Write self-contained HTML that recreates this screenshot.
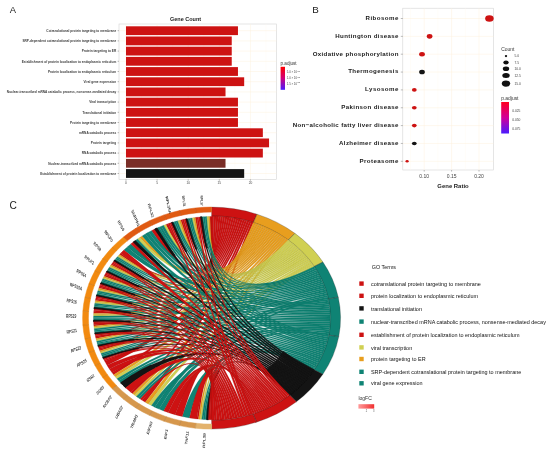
<!DOCTYPE html>
<html><head><meta charset="utf-8"><style>
html,body{margin:0;padding:0;background:#fff;}
svg{display:block;}
</style></head><body>
<svg width="550" height="454" viewBox="0 0 550 454">
<rect width="550" height="454" fill="#fff"/>
<text x="9.8" y="12.5" font-size="9.4" font-family="Liberation Sans, Arial, sans-serif" fill="#222">A</text>
<rect x="119.0" y="24.0" width="157.5" height="155.3" fill="#fff" stroke="#d4d4d4" stroke-width="0.6"/>
<line x1="141.55" y1="24.0" x2="141.55" y2="179.3" stroke="#fef8ee" stroke-width="0.35"/>
<line x1="172.65" y1="24.0" x2="172.65" y2="179.3" stroke="#fef8ee" stroke-width="0.35"/>
<line x1="203.75" y1="24.0" x2="203.75" y2="179.3" stroke="#fef8ee" stroke-width="0.35"/>
<line x1="234.85" y1="24.0" x2="234.85" y2="179.3" stroke="#fef8ee" stroke-width="0.35"/>
<line x1="265.95" y1="24.0" x2="265.95" y2="179.3" stroke="#fef8ee" stroke-width="0.35"/>
<line x1="126.00" y1="24.0" x2="126.00" y2="179.3" stroke="#fcf0dc" stroke-width="0.5"/>
<line x1="157.10" y1="24.0" x2="157.10" y2="179.3" stroke="#fcf0dc" stroke-width="0.5"/>
<line x1="188.20" y1="24.0" x2="188.20" y2="179.3" stroke="#fcf0dc" stroke-width="0.5"/>
<line x1="219.30" y1="24.0" x2="219.30" y2="179.3" stroke="#fcf0dc" stroke-width="0.5"/>
<line x1="250.40" y1="24.0" x2="250.40" y2="179.3" stroke="#fcf0dc" stroke-width="0.5"/>
<line x1="119.0" y1="30.70" x2="276.5" y2="30.70" stroke="#fcf0dc" stroke-width="0.5"/>
<line x1="119.0" y1="40.90" x2="276.5" y2="40.90" stroke="#fcf0dc" stroke-width="0.5"/>
<line x1="119.0" y1="51.10" x2="276.5" y2="51.10" stroke="#fcf0dc" stroke-width="0.5"/>
<line x1="119.0" y1="61.30" x2="276.5" y2="61.30" stroke="#fcf0dc" stroke-width="0.5"/>
<line x1="119.0" y1="71.50" x2="276.5" y2="71.50" stroke="#fcf0dc" stroke-width="0.5"/>
<line x1="119.0" y1="81.70" x2="276.5" y2="81.70" stroke="#fcf0dc" stroke-width="0.5"/>
<line x1="119.0" y1="91.90" x2="276.5" y2="91.90" stroke="#fcf0dc" stroke-width="0.5"/>
<line x1="119.0" y1="102.10" x2="276.5" y2="102.10" stroke="#fcf0dc" stroke-width="0.5"/>
<line x1="119.0" y1="112.30" x2="276.5" y2="112.30" stroke="#fcf0dc" stroke-width="0.5"/>
<line x1="119.0" y1="122.50" x2="276.5" y2="122.50" stroke="#fcf0dc" stroke-width="0.5"/>
<line x1="119.0" y1="132.70" x2="276.5" y2="132.70" stroke="#fcf0dc" stroke-width="0.5"/>
<line x1="119.0" y1="142.90" x2="276.5" y2="142.90" stroke="#fcf0dc" stroke-width="0.5"/>
<line x1="119.0" y1="153.10" x2="276.5" y2="153.10" stroke="#fcf0dc" stroke-width="0.5"/>
<line x1="119.0" y1="163.30" x2="276.5" y2="163.30" stroke="#fcf0dc" stroke-width="0.5"/>
<line x1="119.0" y1="173.50" x2="276.5" y2="173.50" stroke="#fcf0dc" stroke-width="0.5"/>
<rect x="126.0" y="26.30" width="111.96" height="8.8" fill="#cd1212"/>
<line x1="117.6" y1="30.70" x2="119.0" y2="30.70" stroke="#555" stroke-width="0.4"/>
<text transform="translate(116.20,32.05) scale(0.845,1)" font-size="3.75" font-weight="bold" text-anchor="end" font-family="Liberation Sans, Arial, sans-serif" fill="#3a3a3a">Cotranslational protein targeting to membrane</text>
<rect x="126.0" y="36.50" width="105.74" height="8.8" fill="#cd1212"/>
<line x1="117.6" y1="40.90" x2="119.0" y2="40.90" stroke="#555" stroke-width="0.4"/>
<text transform="translate(116.20,42.25) scale(0.845,1)" font-size="3.75" font-weight="bold" text-anchor="end" font-family="Liberation Sans, Arial, sans-serif" fill="#3a3a3a">SRP-dependent cotranslational protein targeting to membrane</text>
<rect x="126.0" y="46.70" width="105.74" height="8.8" fill="#cd1212"/>
<line x1="117.6" y1="51.10" x2="119.0" y2="51.10" stroke="#555" stroke-width="0.4"/>
<text transform="translate(116.20,52.45) scale(0.845,1)" font-size="3.75" font-weight="bold" text-anchor="end" font-family="Liberation Sans, Arial, sans-serif" fill="#3a3a3a">Protein targeting to ER</text>
<rect x="126.0" y="56.90" width="105.74" height="8.8" fill="#cd1212"/>
<line x1="117.6" y1="61.30" x2="119.0" y2="61.30" stroke="#555" stroke-width="0.4"/>
<text transform="translate(116.20,62.65) scale(0.845,1)" font-size="3.75" font-weight="bold" text-anchor="end" font-family="Liberation Sans, Arial, sans-serif" fill="#3a3a3a">Establishment of protein localization to endoplasmic reticulum</text>
<rect x="126.0" y="67.10" width="111.96" height="8.8" fill="#cd1212"/>
<line x1="117.6" y1="71.50" x2="119.0" y2="71.50" stroke="#555" stroke-width="0.4"/>
<text transform="translate(116.20,72.85) scale(0.845,1)" font-size="3.75" font-weight="bold" text-anchor="end" font-family="Liberation Sans, Arial, sans-serif" fill="#3a3a3a">Protein localization to endoplasmic reticulum</text>
<rect x="126.0" y="77.30" width="118.18" height="8.8" fill="#cd1212"/>
<line x1="117.6" y1="81.70" x2="119.0" y2="81.70" stroke="#555" stroke-width="0.4"/>
<text transform="translate(116.20,83.05) scale(0.845,1)" font-size="3.75" font-weight="bold" text-anchor="end" font-family="Liberation Sans, Arial, sans-serif" fill="#3a3a3a">Viral gene expression</text>
<rect x="126.0" y="87.50" width="99.52" height="8.8" fill="#cd1212"/>
<line x1="117.6" y1="91.90" x2="119.0" y2="91.90" stroke="#555" stroke-width="0.4"/>
<text transform="translate(116.20,93.25) scale(0.845,1)" font-size="3.75" font-weight="bold" text-anchor="end" font-family="Liberation Sans, Arial, sans-serif" fill="#3a3a3a">Nuclear-transcribed mRNA catabolic process, nonsense-mediated decay</text>
<rect x="126.0" y="97.70" width="111.96" height="8.8" fill="#cd1212"/>
<line x1="117.6" y1="102.10" x2="119.0" y2="102.10" stroke="#555" stroke-width="0.4"/>
<text transform="translate(116.20,103.45) scale(0.845,1)" font-size="3.75" font-weight="bold" text-anchor="end" font-family="Liberation Sans, Arial, sans-serif" fill="#3a3a3a">Viral transcription</text>
<rect x="126.0" y="107.90" width="111.96" height="8.8" fill="#cd1212"/>
<line x1="117.6" y1="112.30" x2="119.0" y2="112.30" stroke="#555" stroke-width="0.4"/>
<text transform="translate(116.20,113.65) scale(0.845,1)" font-size="3.75" font-weight="bold" text-anchor="end" font-family="Liberation Sans, Arial, sans-serif" fill="#3a3a3a">Translational initiation</text>
<rect x="126.0" y="118.10" width="111.96" height="8.8" fill="#cd1212"/>
<line x1="117.6" y1="122.50" x2="119.0" y2="122.50" stroke="#555" stroke-width="0.4"/>
<text transform="translate(116.20,123.85) scale(0.845,1)" font-size="3.75" font-weight="bold" text-anchor="end" font-family="Liberation Sans, Arial, sans-serif" fill="#3a3a3a">Protein targeting to membrane</text>
<rect x="126.0" y="128.30" width="136.84" height="8.8" fill="#cd1212"/>
<line x1="117.6" y1="132.70" x2="119.0" y2="132.70" stroke="#555" stroke-width="0.4"/>
<text transform="translate(116.20,134.05) scale(0.845,1)" font-size="3.75" font-weight="bold" text-anchor="end" font-family="Liberation Sans, Arial, sans-serif" fill="#3a3a3a">mRNA catabolic process</text>
<rect x="126.0" y="138.50" width="143.06" height="8.8" fill="#cd1212"/>
<line x1="117.6" y1="142.90" x2="119.0" y2="142.90" stroke="#555" stroke-width="0.4"/>
<text transform="translate(116.20,144.25) scale(0.845,1)" font-size="3.75" font-weight="bold" text-anchor="end" font-family="Liberation Sans, Arial, sans-serif" fill="#3a3a3a">Protein targeting</text>
<rect x="126.0" y="148.70" width="136.84" height="8.8" fill="#cd1212"/>
<line x1="117.6" y1="153.10" x2="119.0" y2="153.10" stroke="#555" stroke-width="0.4"/>
<text transform="translate(116.20,154.45) scale(0.845,1)" font-size="3.75" font-weight="bold" text-anchor="end" font-family="Liberation Sans, Arial, sans-serif" fill="#3a3a3a">RNA catabolic process</text>
<rect x="126.0" y="158.90" width="99.52" height="8.8" fill="#7a2e27"/>
<line x1="117.6" y1="163.30" x2="119.0" y2="163.30" stroke="#555" stroke-width="0.4"/>
<text transform="translate(116.20,164.65) scale(0.845,1)" font-size="3.75" font-weight="bold" text-anchor="end" font-family="Liberation Sans, Arial, sans-serif" fill="#3a3a3a">Nuclear-transcribed mRNA catabolic process</text>
<rect x="126.0" y="169.10" width="118.18" height="8.8" fill="#141414"/>
<line x1="117.6" y1="173.50" x2="119.0" y2="173.50" stroke="#555" stroke-width="0.4"/>
<text transform="translate(116.20,174.85) scale(0.845,1)" font-size="3.75" font-weight="bold" text-anchor="end" font-family="Liberation Sans, Arial, sans-serif" fill="#3a3a3a">Establishment of protein localization to membrane</text>
<line x1="126.00" y1="179.3" x2="126.00" y2="180.8" stroke="#555" stroke-width="0.4"/>
<text x="126.00" y="183.90" font-size="3.2" text-anchor="middle" font-family="Liberation Sans, Arial, sans-serif" fill="#444">0</text>
<line x1="157.10" y1="179.3" x2="157.10" y2="180.8" stroke="#555" stroke-width="0.4"/>
<text x="157.10" y="183.90" font-size="3.2" text-anchor="middle" font-family="Liberation Sans, Arial, sans-serif" fill="#444">5</text>
<line x1="188.20" y1="179.3" x2="188.20" y2="180.8" stroke="#555" stroke-width="0.4"/>
<text x="188.20" y="183.90" font-size="3.2" text-anchor="middle" font-family="Liberation Sans, Arial, sans-serif" fill="#444">10</text>
<line x1="219.30" y1="179.3" x2="219.30" y2="180.8" stroke="#555" stroke-width="0.4"/>
<text x="219.30" y="183.90" font-size="3.2" text-anchor="middle" font-family="Liberation Sans, Arial, sans-serif" fill="#444">15</text>
<line x1="250.40" y1="179.3" x2="250.40" y2="180.8" stroke="#555" stroke-width="0.4"/>
<text x="250.40" y="183.90" font-size="3.2" text-anchor="middle" font-family="Liberation Sans, Arial, sans-serif" fill="#444">20</text>
<text x="185.6" y="21.2" font-size="5.5" font-weight="bold" text-anchor="middle" font-family="Liberation Sans, Arial, sans-serif" fill="#222">Gene Count</text>
<defs><linearGradient id="gA" x1="0" y1="0" x2="0" y2="1"><stop offset="0" stop-color="#ff0000"/><stop offset="0.5" stop-color="#d0007a"/><stop offset="1" stop-color="#4a1aff"/></linearGradient><linearGradient id="gB" x1="0" y1="0" x2="0" y2="1"><stop offset="0" stop-color="#ff0020"/><stop offset="0.5" stop-color="#d0009a"/><stop offset="1" stop-color="#4a1aff"/></linearGradient><linearGradient id="gC" x1="0" y1="0" x2="1" y2="0"><stop offset="0" stop-color="#ff9a9a"/><stop offset="1" stop-color="#f03030"/></linearGradient></defs>
<text x="280.5" y="65.2" font-size="4.6" font-family="Liberation Sans, Arial, sans-serif" fill="#333">p.adjust</text>
<rect x="280.6" y="66.8" width="4.4" height="23" fill="url(#gA)"/>
<text x="286.8" y="73.30" font-size="2.8" font-family="Liberation Sans, Arial, sans-serif" fill="#444">5.0 × 10<tspan font-size="1.8" dy="-1.2">−13</tspan></text>
<text x="286.8" y="78.80" font-size="2.8" font-family="Liberation Sans, Arial, sans-serif" fill="#444">1.0 × 10<tspan font-size="1.8" dy="-1.2">−12</tspan></text>
<text x="286.8" y="84.60" font-size="2.8" font-family="Liberation Sans, Arial, sans-serif" fill="#444">1.5 × 10<tspan font-size="1.8" dy="-1.2">−12</tspan></text>
<text x="312.3" y="13.2" font-size="9.8" font-family="Liberation Sans, Arial, sans-serif" fill="#222">B</text>
<rect x="402.8" y="8.2" width="90.69999999999999" height="161.8" fill="#fff" stroke="#d4d4d4" stroke-width="0.6"/>
<line x1="410.50" y1="8.2" x2="410.50" y2="170.0" stroke="#fef8ee" stroke-width="0.35"/>
<line x1="437.90" y1="8.2" x2="437.90" y2="170.0" stroke="#fef8ee" stroke-width="0.35"/>
<line x1="465.30" y1="8.2" x2="465.30" y2="170.0" stroke="#fef8ee" stroke-width="0.35"/>
<line x1="424.20" y1="8.2" x2="424.20" y2="170.0" stroke="#fcf0dc" stroke-width="0.5"/>
<line x1="451.60" y1="8.2" x2="451.60" y2="170.0" stroke="#fcf0dc" stroke-width="0.5"/>
<line x1="479.00" y1="8.2" x2="479.00" y2="170.0" stroke="#fcf0dc" stroke-width="0.5"/>
<line x1="402.8" y1="18.50" x2="493.5" y2="18.50" stroke="#fcf0dc" stroke-width="0.5"/>
<line x1="402.8" y1="36.35" x2="493.5" y2="36.35" stroke="#fcf0dc" stroke-width="0.5"/>
<line x1="402.8" y1="54.20" x2="493.5" y2="54.20" stroke="#fcf0dc" stroke-width="0.5"/>
<line x1="402.8" y1="72.05" x2="493.5" y2="72.05" stroke="#fcf0dc" stroke-width="0.5"/>
<line x1="402.8" y1="89.90" x2="493.5" y2="89.90" stroke="#fcf0dc" stroke-width="0.5"/>
<line x1="402.8" y1="107.75" x2="493.5" y2="107.75" stroke="#fcf0dc" stroke-width="0.5"/>
<line x1="402.8" y1="125.60" x2="493.5" y2="125.60" stroke="#fcf0dc" stroke-width="0.5"/>
<line x1="402.8" y1="143.45" x2="493.5" y2="143.45" stroke="#fcf0dc" stroke-width="0.5"/>
<line x1="402.8" y1="161.30" x2="493.5" y2="161.30" stroke="#fcf0dc" stroke-width="0.5"/>
<ellipse cx="489.4" cy="18.50" rx="4.25" ry="3.25" fill="#cd1212"/>
<line x1="400.8" y1="18.50" x2="402.8" y2="18.50" stroke="#555" stroke-width="0.4"/>
<text x="398.4" y="19.90" font-size="6.15" font-weight="bold" text-anchor="end" textLength="32.87" lengthAdjust="spacing" font-family="Liberation Sans, Arial, sans-serif" fill="#1a1a1a">Ribosome</text>
<ellipse cx="429.6" cy="36.35" rx="2.85" ry="2.3" fill="#cd1212"/>
<line x1="400.8" y1="36.35" x2="402.8" y2="36.35" stroke="#555" stroke-width="0.4"/>
<text x="398.4" y="37.75" font-size="6.15" font-weight="bold" text-anchor="end" textLength="63.09" lengthAdjust="spacing" font-family="Liberation Sans, Arial, sans-serif" fill="#1a1a1a">Huntington disease</text>
<ellipse cx="422.0" cy="54.20" rx="2.85" ry="2.25" fill="#cd1212"/>
<line x1="400.8" y1="54.20" x2="402.8" y2="54.20" stroke="#555" stroke-width="0.4"/>
<text x="398.4" y="55.60" font-size="6.15" font-weight="bold" text-anchor="end" textLength="85.76" lengthAdjust="spacing" font-family="Liberation Sans, Arial, sans-serif" fill="#1a1a1a">Oxidative phosphorylation</text>
<ellipse cx="422.0" cy="72.05" rx="2.85" ry="2.3" fill="#141414"/>
<line x1="400.8" y1="72.05" x2="402.8" y2="72.05" stroke="#555" stroke-width="0.4"/>
<text x="398.4" y="73.45" font-size="6.15" font-weight="bold" text-anchor="end" textLength="50.26" lengthAdjust="spacing" font-family="Liberation Sans, Arial, sans-serif" fill="#1a1a1a">Thermogenesis</text>
<ellipse cx="414.3" cy="89.90" rx="2.4" ry="1.8" fill="#cd1212"/>
<line x1="400.8" y1="89.90" x2="402.8" y2="89.90" stroke="#555" stroke-width="0.4"/>
<text x="398.4" y="91.30" font-size="6.15" font-weight="bold" text-anchor="end" textLength="33.38" lengthAdjust="spacing" font-family="Liberation Sans, Arial, sans-serif" fill="#1a1a1a">Lysosome</text>
<ellipse cx="414.3" cy="107.75" rx="2.4" ry="1.8" fill="#cd1212"/>
<line x1="400.8" y1="107.75" x2="402.8" y2="107.75" stroke="#555" stroke-width="0.4"/>
<text x="398.4" y="109.15" font-size="6.15" font-weight="bold" text-anchor="end" textLength="57.07" lengthAdjust="spacing" font-family="Liberation Sans, Arial, sans-serif" fill="#1a1a1a">Pakinson disease</text>
<ellipse cx="414.3" cy="125.60" rx="2.4" ry="1.8" fill="#cd1212"/>
<line x1="400.8" y1="125.60" x2="402.8" y2="125.60" stroke="#555" stroke-width="0.4"/>
<text x="398.4" y="127.00" font-size="6.15" font-weight="bold" text-anchor="end" textLength="105.62" lengthAdjust="spacing" font-family="Liberation Sans, Arial, sans-serif" fill="#1a1a1a">Non−alcoholic fatty liver disease</text>
<ellipse cx="414.3" cy="143.45" rx="2.4" ry="1.8" fill="#141414"/>
<line x1="400.8" y1="143.45" x2="402.8" y2="143.45" stroke="#555" stroke-width="0.4"/>
<text x="398.4" y="144.85" font-size="6.15" font-weight="bold" text-anchor="end" textLength="59.34" lengthAdjust="spacing" font-family="Liberation Sans, Arial, sans-serif" fill="#1a1a1a">Alzheimer disease</text>
<ellipse cx="407.1" cy="161.30" rx="1.6" ry="1.2" fill="#cd1212"/>
<line x1="400.8" y1="161.30" x2="402.8" y2="161.30" stroke="#555" stroke-width="0.4"/>
<text x="398.4" y="162.70" font-size="6.15" font-weight="bold" text-anchor="end" textLength="38.93" lengthAdjust="spacing" font-family="Liberation Sans, Arial, sans-serif" fill="#1a1a1a">Proteasome</text>
<line x1="424.20" y1="170.0" x2="424.20" y2="171.6" stroke="#555" stroke-width="0.4"/>
<text x="424.20" y="178.20" font-size="5" text-anchor="middle" font-family="Liberation Sans, Arial, sans-serif" fill="#444">0.10</text>
<line x1="451.60" y1="170.0" x2="451.60" y2="171.6" stroke="#555" stroke-width="0.4"/>
<text x="451.60" y="178.20" font-size="5" text-anchor="middle" font-family="Liberation Sans, Arial, sans-serif" fill="#444">0.15</text>
<line x1="479.00" y1="170.0" x2="479.00" y2="171.6" stroke="#555" stroke-width="0.4"/>
<text x="479.00" y="178.20" font-size="5" text-anchor="middle" font-family="Liberation Sans, Arial, sans-serif" fill="#444">0.20</text>
<text x="453" y="188.2" font-size="5.95" font-weight="bold" text-anchor="middle" font-family="Liberation Sans, Arial, sans-serif" fill="#222">Gene Ratio</text>
<text x="501.2" y="50.5" font-size="4.95" font-family="Liberation Sans, Arial, sans-serif" fill="#333">Count</text>
<ellipse cx="506" cy="56.1" rx="1.2" ry="1.1" fill="#111"/>
<text x="514.4" y="57.30" font-size="3.3" font-family="Liberation Sans, Arial, sans-serif" fill="#444">5.0</text>
<ellipse cx="506" cy="62.4" rx="2.7" ry="2.0" fill="#111"/>
<text x="514.4" y="63.60" font-size="3.3" font-family="Liberation Sans, Arial, sans-serif" fill="#444">7.5</text>
<ellipse cx="506" cy="68.7" rx="3.2" ry="2.3" fill="#111"/>
<text x="514.4" y="69.90" font-size="3.3" font-family="Liberation Sans, Arial, sans-serif" fill="#444">10.0</text>
<ellipse cx="506" cy="75.5" rx="3.7" ry="2.5" fill="#111"/>
<text x="514.4" y="76.70" font-size="3.3" font-family="Liberation Sans, Arial, sans-serif" fill="#444">12.5</text>
<ellipse cx="506" cy="83.6" rx="4.2" ry="3.1" fill="#111"/>
<text x="514.4" y="84.80" font-size="3.3" font-family="Liberation Sans, Arial, sans-serif" fill="#444">15.0</text>
<text x="501.2" y="99.9" font-size="4.95" font-family="Liberation Sans, Arial, sans-serif" fill="#333">p.adjust</text>
<rect x="501.2" y="102" width="7.8" height="31.5" fill="url(#gB)"/>
<text x="512.2" y="112.00" font-size="3.3" font-family="Liberation Sans, Arial, sans-serif" fill="#444">0.025</text>
<text x="512.2" y="120.80" font-size="3.3" font-family="Liberation Sans, Arial, sans-serif" fill="#444">0.050</text>
<text x="512.2" y="129.90" font-size="3.3" font-family="Liberation Sans, Arial, sans-serif" fill="#444">0.075</text>
<text x="9.6" y="209.2" font-size="10.2" font-family="Liberation Sans, Arial, sans-serif" fill="#222">C</text>
<g transform="translate(211.6,318.1) scale(1.162,1)">
<path d="M0.00,-111.00 A111.0,111.0 0 0 1 39.05,-103.90 L35.96,-95.67 A102.2,102.2 0 0 0 0.00,-102.20 Z" fill="#cd1212" stroke="#333" stroke-width="0.25"/>
<path d="M39.05,-103.90 A111.0,111.0 0 0 1 71.65,-84.78 L65.97,-78.06 A102.2,102.2 0 0 0 35.96,-95.67 Z" fill="#e89e1e" stroke="#333" stroke-width="0.25"/>
<path d="M71.65,-84.78 A111.0,111.0 0 0 1 95.84,-56.00 L88.24,-51.56 A102.2,102.2 0 0 0 65.97,-78.06 Z" fill="#d0d052" stroke="#333" stroke-width="0.25"/>
<path d="M95.84,-56.00 A111.0,111.0 0 0 1 109.03,-20.80 L100.39,-19.15 A102.2,102.2 0 0 0 88.24,-51.56 Z" fill="#0f8374" stroke="#333" stroke-width="0.25"/>
<path d="M109.03,-20.80 A111.0,111.0 0 0 1 109.45,18.51 L100.77,17.04 A102.2,102.2 0 0 0 100.39,-19.15 Z" fill="#0f8374" stroke="#333" stroke-width="0.25"/>
<path d="M109.45,18.51 A111.0,111.0 0 0 1 95.74,56.17 L88.15,51.72 A102.2,102.2 0 0 0 100.77,17.04 Z" fill="#0f8374" stroke="#333" stroke-width="0.25"/>
<path d="M95.74,56.17 A111.0,111.0 0 0 1 72.97,83.65 L67.18,77.01 A102.2,102.2 0 0 0 88.15,51.72 Z" fill="#141414" stroke="#333" stroke-width="0.25"/>
<path d="M72.97,83.65 A111.0,111.0 0 0 1 38.69,104.04 L35.62,95.79 A102.2,102.2 0 0 0 67.18,77.01 Z" fill="#cd1212" stroke="#333" stroke-width="0.25"/>
<path d="M38.69,104.04 A111.0,111.0 0 0 1 0.00,111.00 L0.00,102.20 A102.2,102.2 0 0 0 35.62,95.79 Z" fill="#cd1212" stroke="#333" stroke-width="0.25"/>
<path d="M-0.00,-101.60 A101.6,101.6 0 0 0 -1.42,-101.59 Q0,0 1.93,-102.18 A102.2,102.2 0 0 0 0.00,-102.20 Q0,0 -0.00,-101.60 Z" fill="#cd1212" stroke="#990d0d" stroke-width="0.2"/>
<path d="M-12.73,-100.80 A101.6,101.6 0 0 0 -14.14,-100.61 Q0,0 3.87,-102.13 A102.2,102.2 0 0 0 1.93,-102.18 Q0,0 -12.73,-100.80 Z" fill="#cd1212" stroke="#990d0d" stroke-width="0.2"/>
<path d="M-25.27,-98.41 A101.6,101.6 0 0 0 -26.64,-98.05 Q0,0 5.80,-102.04 A102.2,102.2 0 0 0 3.87,-102.13 Q0,0 -25.27,-98.41 Z" fill="#cd1212" stroke="#990d0d" stroke-width="0.2"/>
<path d="M-37.40,-94.47 A101.6,101.6 0 0 0 -39.37,-93.66 Q0,0 7.73,-101.91 A102.2,102.2 0 0 0 5.80,-102.04 Q0,0 -37.40,-94.47 Z" fill="#cd1212" stroke="#990d0d" stroke-width="0.2"/>
<path d="M-48.95,-89.03 A101.6,101.6 0 0 0 -51.72,-87.45 Q0,0 9.66,-101.74 A102.2,102.2 0 0 0 7.73,-101.91 Q0,0 -48.95,-89.03 Z" fill="#cd1212" stroke="#990d0d" stroke-width="0.2"/>
<path d="M-78.28,-64.76 A101.6,101.6 0 0 0 -79.18,-63.66 Q0,0 11.58,-101.54 A102.2,102.2 0 0 0 9.66,-101.74 Q0,0 -78.28,-64.76 Z" fill="#cd1212" stroke="#990d0d" stroke-width="0.2"/>
<path d="M-85.78,-54.44 A101.6,101.6 0 0 0 -86.54,-53.24 Q0,0 13.50,-101.30 A102.2,102.2 0 0 0 11.58,-101.54 Q0,0 -85.78,-54.44 Z" fill="#cd1212" stroke="#990d0d" stroke-width="0.2"/>
<path d="M-91.93,-43.26 A101.6,101.6 0 0 0 -92.53,-41.97 Q0,0 15.41,-101.03 A102.2,102.2 0 0 0 13.50,-101.30 Q0,0 -91.93,-43.26 Z" fill="#cd1212" stroke="#990d0d" stroke-width="0.2"/>
<path d="M-96.63,-31.40 A101.6,101.6 0 0 0 -97.06,-30.04 Q0,0 17.32,-100.72 A102.2,102.2 0 0 0 15.41,-101.03 Q0,0 -96.63,-31.40 Z" fill="#cd1212" stroke="#990d0d" stroke-width="0.2"/>
<path d="M-99.80,-19.04 A101.6,101.6 0 0 0 -100.06,-17.64 Q0,0 19.22,-100.38 A102.2,102.2 0 0 0 17.32,-100.72 Q0,0 -99.80,-19.04 Z" fill="#cd1212" stroke="#990d0d" stroke-width="0.2"/>
<path d="M-101.40,-6.38 A101.6,101.6 0 0 0 -101.48,-4.96 Q0,0 21.12,-99.99 A102.2,102.2 0 0 0 19.22,-100.38 Q0,0 -101.40,-6.38 Z" fill="#cd1212" stroke="#990d0d" stroke-width="0.2"/>
<path d="M-101.40,6.38 A101.6,101.6 0 0 0 -101.30,7.79 Q0,0 23.01,-99.58 A102.2,102.2 0 0 0 21.12,-99.99 Q0,0 -101.40,6.38 Z" fill="#cd1212" stroke="#990d0d" stroke-width="0.2"/>
<path d="M-99.80,19.04 A101.6,101.6 0 0 0 -99.52,20.43 Q0,0 24.89,-99.12 A102.2,102.2 0 0 0 23.01,-99.58 Q0,0 -99.80,19.04 Z" fill="#cd1212" stroke="#990d0d" stroke-width="0.2"/>
<path d="M-96.63,31.40 A101.6,101.6 0 0 0 -96.18,32.74 Q0,0 26.76,-98.63 A102.2,102.2 0 0 0 24.89,-99.12 Q0,0 -96.63,31.40 Z" fill="#cd1212" stroke="#990d0d" stroke-width="0.2"/>
<path d="M-91.93,43.26 A101.6,101.6 0 0 0 -90.04,47.07 Q0,0 28.62,-98.11 A102.2,102.2 0 0 0 26.76,-98.63 Q0,0 -91.93,43.26 Z" fill="#cd1212" stroke="#990d0d" stroke-width="0.2"/>
<path d="M-85.78,54.44 A101.6,101.6 0 0 0 -84.39,56.58 Q0,0 30.47,-97.55 A102.2,102.2 0 0 0 28.62,-98.11 Q0,0 -85.78,54.44 Z" fill="#cd1212" stroke="#990d0d" stroke-width="0.2"/>
<path d="M-69.55,74.06 A101.6,101.6 0 0 0 -67.98,75.50 Q0,0 32.31,-96.96 A102.2,102.2 0 0 0 30.47,-97.55 Q0,0 -69.55,74.06 Z" fill="#cd1212" stroke="#990d0d" stroke-width="0.2"/>
<path d="M-59.72,82.20 A101.6,101.6 0 0 0 -57.11,84.03 Q0,0 34.14,-96.33 A102.2,102.2 0 0 0 32.31,-96.96 Q0,0 -59.72,82.20 Z" fill="#cd1212" stroke="#990d0d" stroke-width="0.2"/>
<path d="M-12.73,100.80 A101.6,101.6 0 0 0 -11.33,100.97 Q0,0 35.96,-95.67 A102.2,102.2 0 0 0 34.14,-96.33 Q0,0 -12.73,100.80 Z" fill="#cd1212" stroke="#990d0d" stroke-width="0.2"/>
<path d="M-1.42,-101.59 A101.6,101.6 0 0 0 -2.84,-101.56 Q0,0 37.88,-94.92 A102.2,102.2 0 0 0 35.96,-95.67 Q0,0 -1.42,-101.59 Z" fill="#e89e1e" stroke="#ae7616" stroke-width="0.2"/>
<path d="M-14.14,-100.61 A101.6,101.6 0 0 0 -15.54,-100.40 Q0,0 39.78,-94.14 A102.2,102.2 0 0 0 37.88,-94.92 Q0,0 -14.14,-100.61 Z" fill="#e89e1e" stroke="#ae7616" stroke-width="0.2"/>
<path d="M-26.64,-98.05 A101.6,101.6 0 0 0 -28.00,-97.66 Q0,0 41.66,-93.32 A102.2,102.2 0 0 0 39.78,-94.14 Q0,0 -26.64,-98.05 Z" fill="#e89e1e" stroke="#ae7616" stroke-width="0.2"/>
<path d="M-59.72,-82.20 A101.6,101.6 0 0 0 -61.77,-80.67 Q0,0 43.53,-92.46 A102.2,102.2 0 0 0 41.66,-93.32 Q0,0 -59.72,-82.20 Z" fill="#e89e1e" stroke="#ae7616" stroke-width="0.2"/>
<path d="M-79.18,-63.66 A101.6,101.6 0 0 0 -80.06,-62.55 Q0,0 45.39,-91.57 A102.2,102.2 0 0 0 43.53,-92.46 Q0,0 -79.18,-63.66 Z" fill="#e89e1e" stroke="#ae7616" stroke-width="0.2"/>
<path d="M-86.54,-53.24 A101.6,101.6 0 0 0 -87.27,-52.02 Q0,0 47.22,-90.64 A102.2,102.2 0 0 0 45.39,-91.57 Q0,0 -86.54,-53.24 Z" fill="#e89e1e" stroke="#ae7616" stroke-width="0.2"/>
<path d="M-92.53,-41.97 A101.6,101.6 0 0 0 -93.10,-40.68 Q0,0 49.03,-89.67 A102.2,102.2 0 0 0 47.22,-90.64 Q0,0 -92.53,-41.97 Z" fill="#e89e1e" stroke="#ae7616" stroke-width="0.2"/>
<path d="M-97.06,-30.04 A101.6,101.6 0 0 0 -97.47,-28.69 Q0,0 50.83,-88.66 A102.2,102.2 0 0 0 49.03,-89.67 Q0,0 -97.06,-30.04 Z" fill="#e89e1e" stroke="#ae7616" stroke-width="0.2"/>
<path d="M-100.06,-17.64 A101.6,101.6 0 0 0 -100.29,-16.24 Q0,0 52.60,-87.62 A102.2,102.2 0 0 0 50.83,-88.66 Q0,0 -100.06,-17.64 Z" fill="#e89e1e" stroke="#ae7616" stroke-width="0.2"/>
<path d="M-101.48,-4.96 A101.6,101.6 0 0 0 -101.54,-3.55 Q0,0 54.35,-86.55 A102.2,102.2 0 0 0 52.60,-87.62 Q0,0 -101.48,-4.96 Z" fill="#e89e1e" stroke="#ae7616" stroke-width="0.2"/>
<path d="M-101.30,7.79 A101.6,101.6 0 0 0 -101.18,9.21 Q0,0 56.08,-85.44 A102.2,102.2 0 0 0 54.35,-86.55 Q0,0 -101.30,7.79 Z" fill="#e89e1e" stroke="#ae7616" stroke-width="0.2"/>
<path d="M-99.52,20.43 A101.6,101.6 0 0 0 -99.23,21.82 Q0,0 57.79,-84.29 A102.2,102.2 0 0 0 56.08,-85.44 Q0,0 -99.52,20.43 Z" fill="#e89e1e" stroke="#ae7616" stroke-width="0.2"/>
<path d="M-96.18,32.74 A101.6,101.6 0 0 0 -95.71,34.08 Q0,0 59.48,-83.11 A102.2,102.2 0 0 0 57.79,-84.29 Q0,0 -96.18,32.74 Z" fill="#e89e1e" stroke="#ae7616" stroke-width="0.2"/>
<path d="M-84.39,56.58 A101.6,101.6 0 0 0 -82.94,58.68 Q0,0 61.14,-81.90 A102.2,102.2 0 0 0 59.48,-83.11 Q0,0 -84.39,56.58 Z" fill="#e89e1e" stroke="#ae7616" stroke-width="0.2"/>
<path d="M-67.98,75.50 A101.6,101.6 0 0 0 -66.39,76.91 Q0,0 62.77,-80.65 A102.2,102.2 0 0 0 61.14,-81.90 Q0,0 -67.98,75.50 Z" fill="#e89e1e" stroke="#ae7616" stroke-width="0.2"/>
<path d="M-57.11,84.03 A101.6,101.6 0 0 0 -54.44,85.78 Q0,0 64.38,-79.37 A102.2,102.2 0 0 0 62.77,-80.65 Q0,0 -57.11,84.03 Z" fill="#e89e1e" stroke="#ae7616" stroke-width="0.2"/>
<path d="M-11.33,100.97 A101.6,101.6 0 0 0 -9.91,101.12 Q0,0 65.97,-78.06 A102.2,102.2 0 0 0 64.38,-79.37 Q0,0 -11.33,100.97 Z" fill="#e89e1e" stroke="#ae7616" stroke-width="0.2"/>
<path d="M-2.84,-101.56 A101.6,101.6 0 0 0 -4.25,-101.51 Q0,0 67.43,-76.80 A102.2,102.2 0 0 0 65.97,-78.06 Q0,0 -2.84,-101.56 Z" fill="#d0d052" stroke="#9c9c3d" stroke-width="0.2"/>
<path d="M-15.54,-100.40 A101.6,101.6 0 0 0 -16.94,-100.18 Q0,0 68.87,-75.51 A102.2,102.2 0 0 0 67.43,-76.80 Q0,0 -15.54,-100.40 Z" fill="#d0d052" stroke="#9c9c3d" stroke-width="0.2"/>
<path d="M-28.00,-97.66 A101.6,101.6 0 0 0 -29.37,-97.26 Q0,0 70.29,-74.19 A102.2,102.2 0 0 0 68.87,-75.51 Q0,0 -28.00,-97.66 Z" fill="#d0d052" stroke="#9c9c3d" stroke-width="0.2"/>
<path d="M-39.37,-93.66 A101.6,101.6 0 0 0 -41.32,-92.82 Q0,0 71.68,-72.85 A102.2,102.2 0 0 0 70.29,-74.19 Q0,0 -39.37,-93.66 Z" fill="#d0d052" stroke="#9c9c3d" stroke-width="0.2"/>
<path d="M-61.77,-80.67 A101.6,101.6 0 0 0 -63.77,-79.09 Q0,0 73.04,-71.48 A102.2,102.2 0 0 0 71.68,-72.85 Q0,0 -61.77,-80.67 Z" fill="#d0d052" stroke="#9c9c3d" stroke-width="0.2"/>
<path d="M-80.06,-62.55 A101.6,101.6 0 0 0 -80.93,-61.43 Q0,0 74.38,-70.09 A102.2,102.2 0 0 0 73.04,-71.48 Q0,0 -80.06,-62.55 Z" fill="#d0d052" stroke="#9c9c3d" stroke-width="0.2"/>
<path d="M-87.27,-52.02 A101.6,101.6 0 0 0 -87.99,-50.80 Q0,0 75.69,-68.67 A102.2,102.2 0 0 0 74.38,-70.09 Q0,0 -87.27,-52.02 Z" fill="#d0d052" stroke="#9c9c3d" stroke-width="0.2"/>
<path d="M-93.10,-40.68 A101.6,101.6 0 0 0 -93.66,-39.37 Q0,0 76.98,-67.23 A102.2,102.2 0 0 0 75.69,-68.67 Q0,0 -93.10,-40.68 Z" fill="#d0d052" stroke="#9c9c3d" stroke-width="0.2"/>
<path d="M-97.47,-28.69 A101.6,101.6 0 0 0 -97.86,-27.32 Q0,0 78.23,-65.76 A102.2,102.2 0 0 0 76.98,-67.23 Q0,0 -97.47,-28.69 Z" fill="#d0d052" stroke="#9c9c3d" stroke-width="0.2"/>
<path d="M-100.29,-16.24 A101.6,101.6 0 0 0 -100.51,-14.84 Q0,0 79.46,-64.27 A102.2,102.2 0 0 0 78.23,-65.76 Q0,0 -100.29,-16.24 Z" fill="#d0d052" stroke="#9c9c3d" stroke-width="0.2"/>
<path d="M-101.54,-3.55 A101.6,101.6 0 0 0 -101.58,-2.13 Q0,0 80.66,-62.76 A102.2,102.2 0 0 0 79.46,-64.27 Q0,0 -101.54,-3.55 Z" fill="#d0d052" stroke="#9c9c3d" stroke-width="0.2"/>
<path d="M-101.18,9.21 A101.6,101.6 0 0 0 -101.04,10.62 Q0,0 81.83,-61.22 A102.2,102.2 0 0 0 80.66,-62.76 Q0,0 -101.18,9.21 Z" fill="#d0d052" stroke="#9c9c3d" stroke-width="0.2"/>
<path d="M-99.23,21.82 A101.6,101.6 0 0 0 -98.92,23.20 Q0,0 82.98,-59.66 A102.2,102.2 0 0 0 81.83,-61.22 Q0,0 -99.23,21.82 Z" fill="#d0d052" stroke="#9c9c3d" stroke-width="0.2"/>
<path d="M-95.71,34.08 A101.6,101.6 0 0 0 -95.23,35.41 Q0,0 84.09,-58.08 A102.2,102.2 0 0 0 82.98,-59.66 Q0,0 -95.71,34.08 Z" fill="#d0d052" stroke="#9c9c3d" stroke-width="0.2"/>
<path d="M-82.94,58.68 A101.6,101.6 0 0 0 -81.44,60.75 Q0,0 85.17,-56.48 A102.2,102.2 0 0 0 84.09,-58.08 Q0,0 -82.94,58.68 Z" fill="#d0d052" stroke="#9c9c3d" stroke-width="0.2"/>
<path d="M-66.39,76.91 A101.6,101.6 0 0 0 -64.76,78.28 Q0,0 86.23,-54.86 A102.2,102.2 0 0 0 85.17,-56.48 Q0,0 -66.39,76.91 Z" fill="#d0d052" stroke="#9c9c3d" stroke-width="0.2"/>
<path d="M-54.44,85.78 A101.6,101.6 0 0 0 -51.72,87.45 Q0,0 87.25,-53.22 A102.2,102.2 0 0 0 86.23,-54.86 Q0,0 -54.44,85.78 Z" fill="#d0d052" stroke="#9c9c3d" stroke-width="0.2"/>
<path d="M-9.91,101.12 A101.6,101.6 0 0 0 -8.50,101.24 Q0,0 88.24,-51.56 A102.2,102.2 0 0 0 87.25,-53.22 Q0,0 -9.91,101.12 Z" fill="#d0d052" stroke="#9c9c3d" stroke-width="0.2"/>
<path d="M-4.25,-101.51 A101.6,101.6 0 0 0 -5.67,-101.44 Q0,0 89.20,-49.89 A102.2,102.2 0 0 0 88.24,-51.56 Q0,0 -4.25,-101.51 Z" fill="#0f8374" stroke="#0b6257" stroke-width="0.2"/>
<path d="M-16.94,-100.18 A101.6,101.6 0 0 0 -18.34,-99.93 Q0,0 90.13,-48.19 A102.2,102.2 0 0 0 89.20,-49.89 Q0,0 -16.94,-100.18 Z" fill="#0f8374" stroke="#0b6257" stroke-width="0.2"/>
<path d="M-29.37,-97.26 A101.6,101.6 0 0 0 -30.72,-96.84 Q0,0 91.02,-46.48 A102.2,102.2 0 0 0 90.13,-48.19 Q0,0 -29.37,-97.26 Z" fill="#0f8374" stroke="#0b6257" stroke-width="0.2"/>
<path d="M-41.32,-92.82 A101.6,101.6 0 0 0 -43.26,-91.93 Q0,0 91.88,-44.75 A102.2,102.2 0 0 0 91.02,-46.48 Q0,0 -41.32,-92.82 Z" fill="#0f8374" stroke="#0b6257" stroke-width="0.2"/>
<path d="M-51.72,-87.45 A101.6,101.6 0 0 0 -54.44,-85.78 Q0,0 92.71,-43.00 A102.2,102.2 0 0 0 91.88,-44.75 Q0,0 -51.72,-87.45 Z" fill="#0f8374" stroke="#0b6257" stroke-width="0.2"/>
<path d="M-69.55,-74.06 A101.6,101.6 0 0 0 -72.59,-71.09 Q0,0 93.51,-41.24 A102.2,102.2 0 0 0 92.71,-43.00 Q0,0 -69.55,-74.06 Z" fill="#0f8374" stroke="#0b6257" stroke-width="0.2"/>
<path d="M-80.93,-61.43 A101.6,101.6 0 0 0 -81.78,-60.29 Q0,0 94.27,-39.47 A102.2,102.2 0 0 0 93.51,-41.24 Q0,0 -80.93,-61.43 Z" fill="#0f8374" stroke="#0b6257" stroke-width="0.2"/>
<path d="M-87.99,-50.80 A101.6,101.6 0 0 0 -88.69,-49.57 Q0,0 95.00,-37.68 A102.2,102.2 0 0 0 94.27,-39.47 Q0,0 -87.99,-50.80 Z" fill="#0f8374" stroke="#0b6257" stroke-width="0.2"/>
<path d="M-93.66,-39.37 A101.6,101.6 0 0 0 -94.20,-38.06 Q0,0 95.70,-35.87 A102.2,102.2 0 0 0 95.00,-37.68 Q0,0 -93.66,-39.37 Z" fill="#0f8374" stroke="#0b6257" stroke-width="0.2"/>
<path d="M-97.86,-27.32 A101.6,101.6 0 0 0 -98.23,-25.95 Q0,0 96.36,-34.06 A102.2,102.2 0 0 0 95.70,-35.87 Q0,0 -97.86,-27.32 Z" fill="#0f8374" stroke="#0b6257" stroke-width="0.2"/>
<path d="M-100.51,-14.84 A101.6,101.6 0 0 0 -100.71,-13.44 Q0,0 96.98,-32.23 A102.2,102.2 0 0 0 96.36,-34.06 Q0,0 -100.51,-14.84 Z" fill="#0f8374" stroke="#0b6257" stroke-width="0.2"/>
<path d="M-101.58,-2.13 A101.6,101.6 0 0 0 -101.60,-0.71 Q0,0 97.58,-30.39 A102.2,102.2 0 0 0 96.98,-32.23 Q0,0 -101.58,-2.13 Z" fill="#0f8374" stroke="#0b6257" stroke-width="0.2"/>
<path d="M-101.04,10.62 A101.6,101.6 0 0 0 -100.89,12.03 Q0,0 98.13,-28.54 A102.2,102.2 0 0 0 97.58,-30.39 Q0,0 -101.04,10.62 Z" fill="#0f8374" stroke="#0b6257" stroke-width="0.2"/>
<path d="M-98.92,23.20 A101.6,101.6 0 0 0 -98.58,24.58 Q0,0 98.66,-26.68 A102.2,102.2 0 0 0 98.13,-28.54 Q0,0 -98.92,23.20 Z" fill="#0f8374" stroke="#0b6257" stroke-width="0.2"/>
<path d="M-95.23,35.41 A101.6,101.6 0 0 0 -94.72,36.74 Q0,0 99.14,-24.81 A102.2,102.2 0 0 0 98.66,-26.68 Q0,0 -95.23,35.41 Z" fill="#0f8374" stroke="#0b6257" stroke-width="0.2"/>
<path d="M-64.76,78.28 A101.6,101.6 0 0 0 -63.11,79.62 Q0,0 99.59,-22.93 A102.2,102.2 0 0 0 99.14,-24.81 Q0,0 -64.76,78.28 Z" fill="#0f8374" stroke="#0b6257" stroke-width="0.2"/>
<path d="M-48.95,89.03 A101.6,101.6 0 0 0 -45.17,91.00 Q0,0 100.01,-21.04 A102.2,102.2 0 0 0 99.59,-22.93 Q0,0 -48.95,89.03 Z" fill="#0f8374" stroke="#0b6257" stroke-width="0.2"/>
<path d="M-8.50,101.24 A101.6,101.6 0 0 0 -7.09,101.35 Q0,0 100.39,-19.15 A102.2,102.2 0 0 0 100.01,-21.04 Q0,0 -8.50,101.24 Z" fill="#0f8374" stroke="#0b6257" stroke-width="0.2"/>
<path d="M-5.67,-101.44 A101.6,101.6 0 0 0 -7.09,-101.35 Q0,0 100.73,-17.27 A102.2,102.2 0 0 0 100.39,-19.15 Q0,0 -5.67,-101.44 Z" fill="#0f8374" stroke="#0b6257" stroke-width="0.2"/>
<path d="M-18.34,-99.93 A101.6,101.6 0 0 0 -19.73,-99.67 Q0,0 101.04,-15.38 A102.2,102.2 0 0 0 100.73,-17.27 Q0,0 -18.34,-99.93 Z" fill="#0f8374" stroke="#0b6257" stroke-width="0.2"/>
<path d="M-30.72,-96.84 A101.6,101.6 0 0 0 -32.07,-96.41 Q0,0 101.31,-13.48 A102.2,102.2 0 0 0 101.04,-15.38 Q0,0 -30.72,-96.84 Z" fill="#0f8374" stroke="#0b6257" stroke-width="0.2"/>
<path d="M-43.26,-91.93 A101.6,101.6 0 0 0 -45.17,-91.00 Q0,0 101.54,-11.58 A102.2,102.2 0 0 0 101.31,-13.48 Q0,0 -43.26,-91.93 Z" fill="#0f8374" stroke="#0b6257" stroke-width="0.2"/>
<path d="M-54.44,-85.78 A101.6,101.6 0 0 0 -57.11,-84.03 Q0,0 101.74,-9.67 A102.2,102.2 0 0 0 101.54,-11.58 Q0,0 -54.44,-85.78 Z" fill="#0f8374" stroke="#0b6257" stroke-width="0.2"/>
<path d="M-72.59,-71.09 A101.6,101.6 0 0 0 -75.50,-67.98 Q0,0 101.90,-7.77 A102.2,102.2 0 0 0 101.74,-9.67 Q0,0 -72.59,-71.09 Z" fill="#0f8374" stroke="#0b6257" stroke-width="0.2"/>
<path d="M-81.78,-60.29 A101.6,101.6 0 0 0 -82.61,-59.14 Q0,0 102.03,-5.85 A102.2,102.2 0 0 0 101.90,-7.77 Q0,0 -81.78,-60.29 Z" fill="#0f8374" stroke="#0b6257" stroke-width="0.2"/>
<path d="M-88.69,-49.57 A101.6,101.6 0 0 0 -89.37,-48.32 Q0,0 102.12,-3.94 A102.2,102.2 0 0 0 102.03,-5.85 Q0,0 -88.69,-49.57 Z" fill="#0f8374" stroke="#0b6257" stroke-width="0.2"/>
<path d="M-94.20,-38.06 A101.6,101.6 0 0 0 -94.72,-36.74 Q0,0 102.18,-2.03 A102.2,102.2 0 0 0 102.12,-3.94 Q0,0 -94.20,-38.06 Z" fill="#0f8374" stroke="#0b6257" stroke-width="0.2"/>
<path d="M-98.23,-25.95 A101.6,101.6 0 0 0 -98.58,-24.58 Q0,0 102.20,-0.11 A102.2,102.2 0 0 0 102.18,-2.03 Q0,0 -98.23,-25.95 Z" fill="#0f8374" stroke="#0b6257" stroke-width="0.2"/>
<path d="M-100.71,-13.44 A101.6,101.6 0 0 0 -100.89,-12.03 Q0,0 102.18,1.80 A102.2,102.2 0 0 0 102.20,-0.11 Q0,0 -100.71,-13.44 Z" fill="#0f8374" stroke="#0b6257" stroke-width="0.2"/>
<path d="M-101.60,-0.71 A101.6,101.6 0 0 0 -101.60,0.71 Q0,0 102.13,3.72 A102.2,102.2 0 0 0 102.18,1.80 Q0,0 -101.60,-0.71 Z" fill="#0f8374" stroke="#0b6257" stroke-width="0.2"/>
<path d="M-100.89,12.03 A101.6,101.6 0 0 0 -100.71,13.44 Q0,0 102.04,5.63 A102.2,102.2 0 0 0 102.13,3.72 Q0,0 -100.89,12.03 Z" fill="#0f8374" stroke="#0b6257" stroke-width="0.2"/>
<path d="M-98.58,24.58 A101.6,101.6 0 0 0 -98.23,25.95 Q0,0 101.92,7.54 A102.2,102.2 0 0 0 102.04,5.63 Q0,0 -98.58,24.58 Z" fill="#0f8374" stroke="#0b6257" stroke-width="0.2"/>
<path d="M-94.72,36.74 A101.6,101.6 0 0 0 -94.20,38.06 Q0,0 101.76,9.45 A102.2,102.2 0 0 0 101.92,7.54 Q0,0 -94.72,36.74 Z" fill="#0f8374" stroke="#0b6257" stroke-width="0.2"/>
<path d="M-81.44,60.75 A101.6,101.6 0 0 0 -79.89,62.77 Q0,0 101.57,11.35 A102.2,102.2 0 0 0 101.76,9.45 Q0,0 -81.44,60.75 Z" fill="#0f8374" stroke="#0b6257" stroke-width="0.2"/>
<path d="M-63.11,79.62 A101.6,101.6 0 0 0 -61.43,80.93 Q0,0 101.34,13.26 A102.2,102.2 0 0 0 101.57,11.35 Q0,0 -63.11,79.62 Z" fill="#0f8374" stroke="#0b6257" stroke-width="0.2"/>
<path d="M-45.17,91.00 A101.6,101.6 0 0 0 -41.32,92.82 Q0,0 101.07,15.15 A102.2,102.2 0 0 0 101.34,13.26 Q0,0 -45.17,91.00 Z" fill="#0f8374" stroke="#0b6257" stroke-width="0.2"/>
<path d="M-7.09,101.35 A101.6,101.6 0 0 0 -5.67,101.44 Q0,0 100.77,17.04 A102.2,102.2 0 0 0 101.07,15.15 Q0,0 -7.09,101.35 Z" fill="#0f8374" stroke="#0b6257" stroke-width="0.2"/>
<path d="M-7.09,-101.35 A101.6,101.6 0 0 0 -8.50,-101.24 Q0,0 100.42,18.97 A102.2,102.2 0 0 0 100.77,17.04 Q0,0 -7.09,-101.35 Z" fill="#0f8374" stroke="#0b6257" stroke-width="0.2"/>
<path d="M-19.73,-99.67 A101.6,101.6 0 0 0 -21.12,-99.38 Q0,0 100.04,20.88 A102.2,102.2 0 0 0 100.42,18.97 Q0,0 -19.73,-99.67 Z" fill="#0f8374" stroke="#0b6257" stroke-width="0.2"/>
<path d="M-32.07,-96.41 A101.6,101.6 0 0 0 -33.41,-95.95 Q0,0 99.63,22.79 A102.2,102.2 0 0 0 100.04,20.88 Q0,0 -32.07,-96.41 Z" fill="#0f8374" stroke="#0b6257" stroke-width="0.2"/>
<path d="M-45.17,-91.00 A101.6,101.6 0 0 0 -47.07,-90.04 Q0,0 99.17,24.69 A102.2,102.2 0 0 0 99.63,22.79 Q0,0 -45.17,-91.00 Z" fill="#0f8374" stroke="#0b6257" stroke-width="0.2"/>
<path d="M-57.11,-84.03 A101.6,101.6 0 0 0 -59.72,-82.20 Q0,0 98.68,26.58 A102.2,102.2 0 0 0 99.17,24.69 Q0,0 -57.11,-84.03 Z" fill="#0f8374" stroke="#0b6257" stroke-width="0.2"/>
<path d="M-63.77,-79.09 A101.6,101.6 0 0 0 -65.74,-77.46 Q0,0 98.16,28.46 A102.2,102.2 0 0 0 98.68,26.58 Q0,0 -63.77,-79.09 Z" fill="#0f8374" stroke="#0b6257" stroke-width="0.2"/>
<path d="M-82.61,-59.14 A101.6,101.6 0 0 0 -83.43,-57.98 Q0,0 97.60,30.33 A102.2,102.2 0 0 0 98.16,28.46 Q0,0 -82.61,-59.14 Z" fill="#0f8374" stroke="#0b6257" stroke-width="0.2"/>
<path d="M-89.37,-48.32 A101.6,101.6 0 0 0 -90.04,-47.07 Q0,0 97.00,32.19 A102.2,102.2 0 0 0 97.60,30.33 Q0,0 -89.37,-48.32 Z" fill="#0f8374" stroke="#0b6257" stroke-width="0.2"/>
<path d="M-94.72,-36.74 A101.6,101.6 0 0 0 -95.23,-35.41 Q0,0 96.37,34.04 A102.2,102.2 0 0 0 97.00,32.19 Q0,0 -94.72,-36.74 Z" fill="#0f8374" stroke="#0b6257" stroke-width="0.2"/>
<path d="M-98.58,-24.58 A101.6,101.6 0 0 0 -98.92,-23.20 Q0,0 95.70,35.87 A102.2,102.2 0 0 0 96.37,34.04 Q0,0 -98.58,-24.58 Z" fill="#0f8374" stroke="#0b6257" stroke-width="0.2"/>
<path d="M-100.89,-12.03 A101.6,101.6 0 0 0 -101.04,-10.62 Q0,0 95.00,37.69 A102.2,102.2 0 0 0 95.70,35.87 Q0,0 -100.89,-12.03 Z" fill="#0f8374" stroke="#0b6257" stroke-width="0.2"/>
<path d="M-101.60,0.71 A101.6,101.6 0 0 0 -101.58,2.13 Q0,0 94.26,39.50 A102.2,102.2 0 0 0 95.00,37.69 Q0,0 -101.60,0.71 Z" fill="#0f8374" stroke="#0b6257" stroke-width="0.2"/>
<path d="M-100.71,13.44 A101.6,101.6 0 0 0 -100.51,14.84 Q0,0 93.49,41.29 A102.2,102.2 0 0 0 94.26,39.50 Q0,0 -100.71,13.44 Z" fill="#0f8374" stroke="#0b6257" stroke-width="0.2"/>
<path d="M-98.23,25.95 A101.6,101.6 0 0 0 -97.86,27.32 Q0,0 92.68,43.07 A102.2,102.2 0 0 0 93.49,41.29 Q0,0 -98.23,25.95 Z" fill="#0f8374" stroke="#0b6257" stroke-width="0.2"/>
<path d="M-94.20,38.06 A101.6,101.6 0 0 0 -93.66,39.37 Q0,0 91.84,44.84 A102.2,102.2 0 0 0 92.68,43.07 Q0,0 -94.20,38.06 Z" fill="#0f8374" stroke="#0b6257" stroke-width="0.2"/>
<path d="M-79.89,62.77 A101.6,101.6 0 0 0 -78.28,64.76 Q0,0 90.97,46.58 A102.2,102.2 0 0 0 91.84,44.84 Q0,0 -79.89,62.77 Z" fill="#0f8374" stroke="#0b6257" stroke-width="0.2"/>
<path d="M-51.72,87.45 A101.6,101.6 0 0 0 -48.95,89.03 Q0,0 90.06,48.31 A102.2,102.2 0 0 0 90.97,46.58 Q0,0 -51.72,87.45 Z" fill="#0f8374" stroke="#0b6257" stroke-width="0.2"/>
<path d="M-25.27,98.41 A101.6,101.6 0 0 0 -19.04,99.80 Q0,0 89.12,50.02 A102.2,102.2 0 0 0 90.06,48.31 Q0,0 -25.27,98.41 Z" fill="#0f8374" stroke="#0b6257" stroke-width="0.2"/>
<path d="M-5.67,101.44 A101.6,101.6 0 0 0 -4.25,101.51 Q0,0 88.15,51.72 A102.2,102.2 0 0 0 89.12,50.02 Q0,0 -5.67,101.44 Z" fill="#0f8374" stroke="#0b6257" stroke-width="0.2"/>
<clipPath id="annC" clipPathUnits="userSpaceOnUse"><path clip-rule="evenodd" d="M0,-111.0 A111.0,111.0 0 1 1 0,111.0 A111.0,111.0 0 1 1 0,-111.0 Z M0,-70.0 A70.0,70.0 0 1 0 0,70.0 A70.0,70.0 0 1 0 0,-70.0 Z"/></clipPath>
<g clip-path="url(#annC)">
<path d="M-8.50,-101.24 A101.6,101.6 0 0 0 -9.91,-101.12 Q0,0 87.09,53.48 A102.2,102.2 0 0 0 88.15,51.72 Q0,0 -8.50,-101.24 Z" fill="#141414" stroke="#141414" stroke-width="0.7"/>
<path d="M-21.12,-99.38 A101.6,101.6 0 0 0 -22.51,-99.08 Q0,0 85.99,55.23 A102.2,102.2 0 0 0 87.09,53.48 Q0,0 -21.12,-99.38 Z" fill="#141414" stroke="#141414" stroke-width="0.7"/>
<path d="M-33.41,-95.95 A101.6,101.6 0 0 0 -34.75,-95.47 Q0,0 84.86,56.96 A102.2,102.2 0 0 0 85.99,55.23 Q0,0 -33.41,-95.95 Z" fill="#141414" stroke="#141414" stroke-width="0.7"/>
<path d="M-47.07,-90.04 A101.6,101.6 0 0 0 -48.95,-89.03 Q0,0 83.69,58.66 A102.2,102.2 0 0 0 84.86,56.96 Q0,0 -47.07,-90.04 Z" fill="#141414" stroke="#141414" stroke-width="0.7"/>
<path d="M-65.74,-77.46 A101.6,101.6 0 0 0 -67.67,-75.79 Q0,0 82.49,60.33 A102.2,102.2 0 0 0 83.69,58.66 Q0,0 -65.74,-77.46 Z" fill="#141414" stroke="#141414" stroke-width="0.7"/>
<path d="M-83.43,-57.98 A101.6,101.6 0 0 0 -84.23,-56.81 Q0,0 81.26,61.99 A102.2,102.2 0 0 0 82.49,60.33 Q0,0 -83.43,-57.98 Z" fill="#141414" stroke="#141414" stroke-width="0.7"/>
<path d="M-90.04,-47.07 A101.6,101.6 0 0 0 -90.69,-45.81 Q0,0 79.99,63.61 A102.2,102.2 0 0 0 81.26,61.99 Q0,0 -90.04,-47.07 Z" fill="#141414" stroke="#141414" stroke-width="0.7"/>
<path d="M-95.23,-35.41 A101.6,101.6 0 0 0 -95.71,-34.08 Q0,0 78.69,65.21 A102.2,102.2 0 0 0 79.99,63.61 Q0,0 -95.23,-35.41 Z" fill="#141414" stroke="#141414" stroke-width="0.7"/>
<path d="M-98.92,-23.20 A101.6,101.6 0 0 0 -99.23,-21.82 Q0,0 77.36,66.79 A102.2,102.2 0 0 0 78.69,65.21 Q0,0 -98.92,-23.20 Z" fill="#141414" stroke="#141414" stroke-width="0.7"/>
<path d="M-101.04,-10.62 A101.6,101.6 0 0 0 -101.18,-9.21 Q0,0 75.99,68.34 A102.2,102.2 0 0 0 77.36,66.79 Q0,0 -101.04,-10.62 Z" fill="#141414" stroke="#141414" stroke-width="0.7"/>
<path d="M-101.58,2.13 A101.6,101.6 0 0 0 -101.54,3.55 Q0,0 74.60,69.85 A102.2,102.2 0 0 0 75.99,68.34 Q0,0 -101.58,2.13 Z" fill="#141414" stroke="#141414" stroke-width="0.7"/>
<path d="M-100.51,14.84 A101.6,101.6 0 0 0 -100.29,16.24 Q0,0 73.17,71.35 A102.2,102.2 0 0 0 74.60,69.85 Q0,0 -100.51,14.84 Z" fill="#141414" stroke="#141414" stroke-width="0.7"/>
<path d="M-97.86,27.32 A101.6,101.6 0 0 0 -97.47,28.69 Q0,0 71.72,72.81 A102.2,102.2 0 0 0 73.17,71.35 Q0,0 -97.86,27.32 Z" fill="#141414" stroke="#141414" stroke-width="0.7"/>
<path d="M-93.66,39.37 A101.6,101.6 0 0 0 -93.10,40.68 Q0,0 70.24,74.24 A102.2,102.2 0 0 0 71.72,72.81 Q0,0 -93.66,39.37 Z" fill="#141414" stroke="#141414" stroke-width="0.7"/>
<path d="M-78.28,64.76 A101.6,101.6 0 0 0 -74.06,69.55 Q0,0 68.72,75.64 A102.2,102.2 0 0 0 70.24,74.24 Q0,0 -78.28,64.76 Z" fill="#141414" stroke="#141414" stroke-width="0.7"/>
<path d="M-4.25,101.51 A101.6,101.6 0 0 0 -2.84,101.56 Q0,0 67.18,77.01 A102.2,102.2 0 0 0 68.72,75.64 Q0,0 -4.25,101.51 Z" fill="#141414" stroke="#141414" stroke-width="0.7"/>
</g>
<path d="M-8.50,-101.24 A101.6,101.6 0 0 0 -9.91,-101.12 Q0,0 87.09,53.48 A102.2,102.2 0 0 0 88.15,51.72 Q0,0 -8.50,-101.24 Z" fill="#141414" stroke="#0f0f0f" stroke-width="0.2"/>
<path d="M-21.12,-99.38 A101.6,101.6 0 0 0 -22.51,-99.08 Q0,0 85.99,55.23 A102.2,102.2 0 0 0 87.09,53.48 Q0,0 -21.12,-99.38 Z" fill="#141414" stroke="#0f0f0f" stroke-width="0.2"/>
<path d="M-33.41,-95.95 A101.6,101.6 0 0 0 -34.75,-95.47 Q0,0 84.86,56.96 A102.2,102.2 0 0 0 85.99,55.23 Q0,0 -33.41,-95.95 Z" fill="#141414" stroke="#0f0f0f" stroke-width="0.2"/>
<path d="M-47.07,-90.04 A101.6,101.6 0 0 0 -48.95,-89.03 Q0,0 83.69,58.66 A102.2,102.2 0 0 0 84.86,56.96 Q0,0 -47.07,-90.04 Z" fill="#141414" stroke="#0f0f0f" stroke-width="0.2"/>
<path d="M-65.74,-77.46 A101.6,101.6 0 0 0 -67.67,-75.79 Q0,0 82.49,60.33 A102.2,102.2 0 0 0 83.69,58.66 Q0,0 -65.74,-77.46 Z" fill="#141414" stroke="#0f0f0f" stroke-width="0.2"/>
<path d="M-83.43,-57.98 A101.6,101.6 0 0 0 -84.23,-56.81 Q0,0 81.26,61.99 A102.2,102.2 0 0 0 82.49,60.33 Q0,0 -83.43,-57.98 Z" fill="#141414" stroke="#0f0f0f" stroke-width="0.2"/>
<path d="M-90.04,-47.07 A101.6,101.6 0 0 0 -90.69,-45.81 Q0,0 79.99,63.61 A102.2,102.2 0 0 0 81.26,61.99 Q0,0 -90.04,-47.07 Z" fill="#141414" stroke="#0f0f0f" stroke-width="0.2"/>
<path d="M-95.23,-35.41 A101.6,101.6 0 0 0 -95.71,-34.08 Q0,0 78.69,65.21 A102.2,102.2 0 0 0 79.99,63.61 Q0,0 -95.23,-35.41 Z" fill="#141414" stroke="#0f0f0f" stroke-width="0.2"/>
<path d="M-98.92,-23.20 A101.6,101.6 0 0 0 -99.23,-21.82 Q0,0 77.36,66.79 A102.2,102.2 0 0 0 78.69,65.21 Q0,0 -98.92,-23.20 Z" fill="#141414" stroke="#0f0f0f" stroke-width="0.2"/>
<path d="M-101.04,-10.62 A101.6,101.6 0 0 0 -101.18,-9.21 Q0,0 75.99,68.34 A102.2,102.2 0 0 0 77.36,66.79 Q0,0 -101.04,-10.62 Z" fill="#141414" stroke="#0f0f0f" stroke-width="0.2"/>
<path d="M-101.58,2.13 A101.6,101.6 0 0 0 -101.54,3.55 Q0,0 74.60,69.85 A102.2,102.2 0 0 0 75.99,68.34 Q0,0 -101.58,2.13 Z" fill="#141414" stroke="#0f0f0f" stroke-width="0.2"/>
<path d="M-100.51,14.84 A101.6,101.6 0 0 0 -100.29,16.24 Q0,0 73.17,71.35 A102.2,102.2 0 0 0 74.60,69.85 Q0,0 -100.51,14.84 Z" fill="#141414" stroke="#0f0f0f" stroke-width="0.2"/>
<path d="M-97.86,27.32 A101.6,101.6 0 0 0 -97.47,28.69 Q0,0 71.72,72.81 A102.2,102.2 0 0 0 73.17,71.35 Q0,0 -97.86,27.32 Z" fill="#141414" stroke="#0f0f0f" stroke-width="0.2"/>
<path d="M-93.66,39.37 A101.6,101.6 0 0 0 -93.10,40.68 Q0,0 70.24,74.24 A102.2,102.2 0 0 0 71.72,72.81 Q0,0 -93.66,39.37 Z" fill="#141414" stroke="#0f0f0f" stroke-width="0.2"/>
<path d="M-78.28,64.76 A101.6,101.6 0 0 0 -74.06,69.55 Q0,0 68.72,75.64 A102.2,102.2 0 0 0 70.24,74.24 Q0,0 -78.28,64.76 Z" fill="#141414" stroke="#0f0f0f" stroke-width="0.2"/>
<path d="M-4.25,101.51 A101.6,101.6 0 0 0 -2.84,101.56 Q0,0 67.18,77.01 A102.2,102.2 0 0 0 68.72,75.64 Q0,0 -4.25,101.51 Z" fill="#141414" stroke="#0f0f0f" stroke-width="0.2"/>
<path d="M-9.91,-101.12 A101.6,101.6 0 0 0 -11.33,-100.97 Q0,0 65.78,78.22 A102.2,102.2 0 0 0 67.18,77.01 Q0,0 -9.91,-101.12 Z" fill="#cd1212" stroke="#990d0d" stroke-width="0.2"/>
<path d="M-22.51,-99.08 A101.6,101.6 0 0 0 -23.89,-98.75 Q0,0 64.36,79.39 A102.2,102.2 0 0 0 65.78,78.22 Q0,0 -22.51,-99.08 Z" fill="#cd1212" stroke="#990d0d" stroke-width="0.2"/>
<path d="M-34.75,-95.47 A101.6,101.6 0 0 0 -36.08,-94.98 Q0,0 62.91,80.54 A102.2,102.2 0 0 0 64.36,79.39 Q0,0 -34.75,-95.47 Z" fill="#cd1212" stroke="#990d0d" stroke-width="0.2"/>
<path d="M-67.67,-75.79 A101.6,101.6 0 0 0 -69.55,-74.06 Q0,0 61.45,81.66 A102.2,102.2 0 0 0 62.91,80.54 Q0,0 -67.67,-75.79 Z" fill="#cd1212" stroke="#990d0d" stroke-width="0.2"/>
<path d="M-75.50,-67.98 A101.6,101.6 0 0 0 -78.28,-64.76 Q0,0 59.96,82.76 A102.2,102.2 0 0 0 61.45,81.66 Q0,0 -75.50,-67.98 Z" fill="#cd1212" stroke="#990d0d" stroke-width="0.2"/>
<path d="M-84.23,-56.81 A101.6,101.6 0 0 0 -85.02,-55.63 Q0,0 58.46,83.83 A102.2,102.2 0 0 0 59.96,82.76 Q0,0 -84.23,-56.81 Z" fill="#cd1212" stroke="#990d0d" stroke-width="0.2"/>
<path d="M-90.69,-45.81 A101.6,101.6 0 0 0 -91.32,-44.54 Q0,0 56.93,84.87 A102.2,102.2 0 0 0 58.46,83.83 Q0,0 -90.69,-45.81 Z" fill="#cd1212" stroke="#990d0d" stroke-width="0.2"/>
<path d="M-95.71,-34.08 A101.6,101.6 0 0 0 -96.18,-32.74 Q0,0 55.39,85.89 A102.2,102.2 0 0 0 56.93,84.87 Q0,0 -95.71,-34.08 Z" fill="#cd1212" stroke="#990d0d" stroke-width="0.2"/>
<path d="M-99.23,-21.82 A101.6,101.6 0 0 0 -99.52,-20.43 Q0,0 53.83,86.87 A102.2,102.2 0 0 0 55.39,85.89 Q0,0 -99.23,-21.82 Z" fill="#cd1212" stroke="#990d0d" stroke-width="0.2"/>
<path d="M-101.18,-9.21 A101.6,101.6 0 0 0 -101.30,-7.79 Q0,0 52.25,87.83 A102.2,102.2 0 0 0 53.83,86.87 Q0,0 -101.18,-9.21 Z" fill="#cd1212" stroke="#990d0d" stroke-width="0.2"/>
<path d="M-101.54,3.55 A101.6,101.6 0 0 0 -101.48,4.96 Q0,0 50.66,88.76 A102.2,102.2 0 0 0 52.25,87.83 Q0,0 -101.54,3.55 Z" fill="#cd1212" stroke="#990d0d" stroke-width="0.2"/>
<path d="M-100.29,16.24 A101.6,101.6 0 0 0 -100.06,17.64 Q0,0 49.05,89.66 A102.2,102.2 0 0 0 50.66,88.76 Q0,0 -100.29,16.24 Z" fill="#cd1212" stroke="#990d0d" stroke-width="0.2"/>
<path d="M-97.47,28.69 A101.6,101.6 0 0 0 -97.06,30.04 Q0,0 47.42,90.53 A102.2,102.2 0 0 0 49.05,89.66 Q0,0 -97.47,28.69 Z" fill="#cd1212" stroke="#990d0d" stroke-width="0.2"/>
<path d="M-93.10,40.68 A101.6,101.6 0 0 0 -92.53,41.97 Q0,0 45.78,91.37 A102.2,102.2 0 0 0 47.42,90.53 Q0,0 -93.10,40.68 Z" fill="#cd1212" stroke="#990d0d" stroke-width="0.2"/>
<path d="M-90.04,47.07 A101.6,101.6 0 0 0 -87.99,50.80 Q0,0 44.12,92.19 A102.2,102.2 0 0 0 45.78,91.37 Q0,0 -90.04,47.07 Z" fill="#cd1212" stroke="#990d0d" stroke-width="0.2"/>
<path d="M-74.06,69.55 A101.6,101.6 0 0 0 -69.55,74.06 Q0,0 42.45,92.97 A102.2,102.2 0 0 0 44.12,92.19 Q0,0 -74.06,69.55 Z" fill="#cd1212" stroke="#990d0d" stroke-width="0.2"/>
<path d="M-41.32,92.82 A101.6,101.6 0 0 0 -37.40,94.47 Q0,0 40.76,93.72 A102.2,102.2 0 0 0 42.45,92.97 Q0,0 -41.32,92.82 Z" fill="#cd1212" stroke="#990d0d" stroke-width="0.2"/>
<path d="M-37.40,94.47 A101.6,101.6 0 0 0 -31.40,96.63 Q0,0 39.06,94.44 A102.2,102.2 0 0 0 40.76,93.72 Q0,0 -37.40,94.47 Z" fill="#cd1212" stroke="#990d0d" stroke-width="0.2"/>
<path d="M-19.04,99.80 A101.6,101.6 0 0 0 -12.73,100.80 Q0,0 37.35,95.13 A102.2,102.2 0 0 0 39.06,94.44 Q0,0 -19.04,99.80 Z" fill="#cd1212" stroke="#990d0d" stroke-width="0.2"/>
<path d="M-2.84,101.56 A101.6,101.6 0 0 0 -1.42,101.59 Q0,0 35.62,95.79 A102.2,102.2 0 0 0 37.35,95.13 Q0,0 -2.84,101.56 Z" fill="#cd1212" stroke="#990d0d" stroke-width="0.2"/>
<path d="M-11.33,-100.97 A101.6,101.6 0 0 0 -12.73,-100.80 Q0,0 33.48,96.56 A102.2,102.2 0 0 0 35.62,95.79 Q0,0 -11.33,-100.97 Z" fill="#cd1212" stroke="#990d0d" stroke-width="0.2"/>
<path d="M-23.89,-98.75 A101.6,101.6 0 0 0 -25.27,-98.41 Q0,0 31.33,97.28 A102.2,102.2 0 0 0 33.48,96.56 Q0,0 -23.89,-98.75 Z" fill="#cd1212" stroke="#990d0d" stroke-width="0.2"/>
<path d="M-36.08,-94.98 A101.6,101.6 0 0 0 -37.40,-94.47 Q0,0 29.15,97.95 A102.2,102.2 0 0 0 31.33,97.28 Q0,0 -36.08,-94.98 Z" fill="#cd1212" stroke="#990d0d" stroke-width="0.2"/>
<path d="M-85.02,-55.63 A101.6,101.6 0 0 0 -85.78,-54.44 Q0,0 26.97,98.58 A102.2,102.2 0 0 0 29.15,97.95 Q0,0 -85.02,-55.63 Z" fill="#cd1212" stroke="#990d0d" stroke-width="0.2"/>
<path d="M-91.32,-44.54 A101.6,101.6 0 0 0 -91.93,-43.26 Q0,0 24.77,99.15 A102.2,102.2 0 0 0 26.97,98.58 Q0,0 -91.32,-44.54 Z" fill="#cd1212" stroke="#990d0d" stroke-width="0.2"/>
<path d="M-96.18,-32.74 A101.6,101.6 0 0 0 -96.63,-31.40 Q0,0 22.56,99.68 A102.2,102.2 0 0 0 24.77,99.15 Q0,0 -96.18,-32.74 Z" fill="#cd1212" stroke="#990d0d" stroke-width="0.2"/>
<path d="M-99.52,-20.43 A101.6,101.6 0 0 0 -99.80,-19.04 Q0,0 20.33,100.16 A102.2,102.2 0 0 0 22.56,99.68 Q0,0 -99.52,-20.43 Z" fill="#cd1212" stroke="#990d0d" stroke-width="0.2"/>
<path d="M-101.30,-7.79 A101.6,101.6 0 0 0 -101.40,-6.38 Q0,0 18.10,100.58 A102.2,102.2 0 0 0 20.33,100.16 Q0,0 -101.30,-7.79 Z" fill="#cd1212" stroke="#990d0d" stroke-width="0.2"/>
<path d="M-101.48,4.96 A101.6,101.6 0 0 0 -101.40,6.38 Q0,0 15.86,100.96 A102.2,102.2 0 0 0 18.10,100.58 Q0,0 -101.48,4.96 Z" fill="#cd1212" stroke="#990d0d" stroke-width="0.2"/>
<path d="M-100.06,17.64 A101.6,101.6 0 0 0 -99.80,19.04 Q0,0 13.61,101.29 A102.2,102.2 0 0 0 15.86,100.96 Q0,0 -100.06,17.64 Z" fill="#cd1212" stroke="#990d0d" stroke-width="0.2"/>
<path d="M-97.06,30.04 A101.6,101.6 0 0 0 -96.63,31.40 Q0,0 11.35,101.57 A102.2,102.2 0 0 0 13.61,101.29 Q0,0 -97.06,30.04 Z" fill="#cd1212" stroke="#990d0d" stroke-width="0.2"/>
<path d="M-92.53,41.97 A101.6,101.6 0 0 0 -91.93,43.26 Q0,0 9.08,101.80 A102.2,102.2 0 0 0 11.35,101.57 Q0,0 -92.53,41.97 Z" fill="#cd1212" stroke="#990d0d" stroke-width="0.2"/>
<path d="M-87.99,50.80 A101.6,101.6 0 0 0 -85.78,54.44 Q0,0 6.82,101.97 A102.2,102.2 0 0 0 9.08,101.80 Q0,0 -87.99,50.80 Z" fill="#cd1212" stroke="#990d0d" stroke-width="0.2"/>
<path d="M-61.43,80.93 A101.6,101.6 0 0 0 -59.72,82.20 Q0,0 4.55,102.10 A102.2,102.2 0 0 0 6.82,101.97 Q0,0 -61.43,80.93 Z" fill="#cd1212" stroke="#990d0d" stroke-width="0.2"/>
<path d="M-31.40,96.63 A101.6,101.6 0 0 0 -25.27,98.41 Q0,0 2.27,102.17 A102.2,102.2 0 0 0 4.55,102.10 Q0,0 -31.40,96.63 Z" fill="#cd1212" stroke="#990d0d" stroke-width="0.2"/>
<path d="M-1.42,101.59 A101.6,101.6 0 0 0 0.00,101.60 Q0,0 -0.00,102.20 A102.2,102.2 0 0 0 2.27,102.17 Q0,0 -1.42,101.59 Z" fill="#cd1212" stroke="#990d0d" stroke-width="0.2"/>
<path d="M-0.00,-111.00 A111.0,111.0 0 0 0 -13.91,-110.12 L-13.29,-105.16 A106.0,106.0 0 0 1 -0.00,-106.00 Z" fill="#e05a12" stroke="#e05a12" stroke-width="0.45"/>
<path d="M-13.91,-110.12 A111.0,111.0 0 0 0 -27.60,-107.51 L-26.36,-102.67 A106.0,106.0 0 0 1 -13.29,-105.16 Z" fill="#e05a12" stroke="#e05a12" stroke-width="0.45"/>
<path d="M-27.60,-107.51 A111.0,111.0 0 0 0 -40.86,-103.21 L-39.02,-98.56 A106.0,106.0 0 0 1 -26.36,-102.67 Z" fill="#e05a12" stroke="#e05a12" stroke-width="0.45"/>
<path d="M-40.86,-103.21 A111.0,111.0 0 0 0 -53.47,-97.27 L-51.07,-92.89 A106.0,106.0 0 0 1 -39.02,-98.56 Z" fill="#e05a12" stroke="#e05a12" stroke-width="0.45"/>
<path d="M-53.47,-97.27 A111.0,111.0 0 0 0 -65.24,-89.80 L-62.31,-85.76 A106.0,106.0 0 0 1 -51.07,-92.89 Z" fill="#e05a12" stroke="#e05a12" stroke-width="0.45"/>
<path d="M-65.24,-89.80 A111.0,111.0 0 0 0 -75.98,-80.92 L-72.56,-77.27 A106.0,106.0 0 0 1 -62.31,-85.76 Z" fill="#e05a12" stroke="#e05a12" stroke-width="0.45"/>
<path d="M-75.98,-80.92 A111.0,111.0 0 0 0 -85.53,-70.75 L-81.67,-67.57 A106.0,106.0 0 0 1 -72.56,-77.27 Z" fill="#f28a10" stroke="#f28a10" stroke-width="0.45"/>
<path d="M-85.53,-70.75 A111.0,111.0 0 0 0 -93.72,-59.48 L-89.50,-56.80 A106.0,106.0 0 0 1 -81.67,-67.57 Z" fill="#f28a10" stroke="#f28a10" stroke-width="0.45"/>
<path d="M-93.72,-59.48 A111.0,111.0 0 0 0 -100.44,-47.26 L-95.91,-45.13 A106.0,106.0 0 0 1 -89.50,-56.80 Z" fill="#f28a10" stroke="#f28a10" stroke-width="0.45"/>
<path d="M-100.44,-47.26 A111.0,111.0 0 0 0 -105.57,-34.30 L-100.81,-32.76 A106.0,106.0 0 0 1 -95.91,-45.13 Z" fill="#f28a10" stroke="#f28a10" stroke-width="0.45"/>
<path d="M-105.57,-34.30 A111.0,111.0 0 0 0 -109.03,-20.80 L-104.12,-19.86 A106.0,106.0 0 0 1 -100.81,-32.76 Z" fill="#f28a10" stroke="#f28a10" stroke-width="0.45"/>
<path d="M-109.03,-20.80 A111.0,111.0 0 0 0 -110.78,-6.97 L-105.79,-6.66 A106.0,106.0 0 0 1 -104.12,-19.86 Z" fill="#f28a10" stroke="#f28a10" stroke-width="0.45"/>
<path d="M-110.78,-6.97 A111.0,111.0 0 0 0 -110.78,6.97 L-105.79,6.66 A106.0,106.0 0 0 1 -105.79,-6.66 Z" fill="#f28a10" stroke="#f28a10" stroke-width="0.45"/>
<path d="M-110.78,6.97 A111.0,111.0 0 0 0 -109.03,20.80 L-104.12,19.86 A106.0,106.0 0 0 1 -105.79,6.66 Z" fill="#f28a10" stroke="#f28a10" stroke-width="0.45"/>
<path d="M-109.03,20.80 A111.0,111.0 0 0 0 -105.57,34.30 L-100.81,32.76 A106.0,106.0 0 0 1 -104.12,19.86 Z" fill="#f28a10" stroke="#f28a10" stroke-width="0.45"/>
<path d="M-105.57,34.30 A111.0,111.0 0 0 0 -100.44,47.26 L-95.91,45.13 A106.0,106.0 0 0 1 -100.81,32.76 Z" fill="#f28a10" stroke="#f28a10" stroke-width="0.45"/>
<path d="M-100.44,47.26 A111.0,111.0 0 0 0 -93.72,59.48 L-89.50,56.80 A106.0,106.0 0 0 1 -95.91,45.13 Z" fill="#f28a10" stroke="#f28a10" stroke-width="0.45"/>
<path d="M-93.72,59.48 A111.0,111.0 0 0 0 -85.53,70.75 L-81.67,67.57 A106.0,106.0 0 0 1 -89.50,56.80 Z" fill="#f28a10" stroke="#f28a10" stroke-width="0.45"/>
<path d="M-85.53,70.75 A111.0,111.0 0 0 0 -75.98,80.92 L-72.56,77.27 A106.0,106.0 0 0 1 -81.67,67.57 Z" fill="#d6974c" stroke="#d6974c" stroke-width="0.45"/>
<path d="M-75.98,80.92 A111.0,111.0 0 0 0 -65.24,89.80 L-62.31,85.76 A106.0,106.0 0 0 1 -72.56,77.27 Z" fill="#d6974c" stroke="#d6974c" stroke-width="0.45"/>
<path d="M-65.24,89.80 A111.0,111.0 0 0 0 -53.47,97.27 L-51.07,92.89 A106.0,106.0 0 0 1 -62.31,85.76 Z" fill="#d6974c" stroke="#d6974c" stroke-width="0.45"/>
<path d="M-53.47,97.27 A111.0,111.0 0 0 0 -40.86,103.21 L-39.02,98.56 A106.0,106.0 0 0 1 -51.07,92.89 Z" fill="#d6974c" stroke="#d6974c" stroke-width="0.45"/>
<path d="M-40.86,103.21 A111.0,111.0 0 0 0 -27.60,107.51 L-26.36,102.67 A106.0,106.0 0 0 1 -39.02,98.56 Z" fill="#d6974c" stroke="#d6974c" stroke-width="0.45"/>
<path d="M-27.60,107.51 A111.0,111.0 0 0 0 -13.91,110.12 L-13.29,105.16 A106.0,106.0 0 0 1 -26.36,102.67 Z" fill="#d6974c" stroke="#d6974c" stroke-width="0.45"/>
<path d="M-13.91,110.12 A111.0,111.0 0 0 0 0.00,111.00 L0.00,106.00 A106.0,106.0 0 0 1 -13.29,105.16 Z" fill="#e3b26c" stroke="#e3b26c" stroke-width="0.45"/>
<line x1="-13.29" y1="-105.16" x2="-13.91" y2="-110.12" stroke="#000" stroke-opacity="0.3" stroke-width="0.3"/>
<line x1="-26.36" y1="-102.67" x2="-27.60" y2="-107.51" stroke="#000" stroke-opacity="0.3" stroke-width="0.3"/>
<line x1="-39.02" y1="-98.56" x2="-40.86" y2="-103.21" stroke="#000" stroke-opacity="0.3" stroke-width="0.3"/>
<line x1="-51.07" y1="-92.89" x2="-53.47" y2="-97.27" stroke="#000" stroke-opacity="0.3" stroke-width="0.3"/>
<line x1="-62.31" y1="-85.76" x2="-65.24" y2="-89.80" stroke="#000" stroke-opacity="0.3" stroke-width="0.3"/>
<line x1="-72.56" y1="-77.27" x2="-75.98" y2="-80.92" stroke="#000" stroke-opacity="0.3" stroke-width="0.3"/>
<line x1="-81.67" y1="-67.57" x2="-85.53" y2="-70.75" stroke="#000" stroke-opacity="0.3" stroke-width="0.3"/>
<line x1="-89.50" y1="-56.80" x2="-93.72" y2="-59.48" stroke="#000" stroke-opacity="0.3" stroke-width="0.3"/>
<line x1="-95.91" y1="-45.13" x2="-100.44" y2="-47.26" stroke="#000" stroke-opacity="0.3" stroke-width="0.3"/>
<line x1="-100.81" y1="-32.76" x2="-105.57" y2="-34.30" stroke="#000" stroke-opacity="0.3" stroke-width="0.3"/>
<line x1="-104.12" y1="-19.86" x2="-109.03" y2="-20.80" stroke="#000" stroke-opacity="0.3" stroke-width="0.3"/>
<line x1="-105.79" y1="-6.66" x2="-110.78" y2="-6.97" stroke="#000" stroke-opacity="0.3" stroke-width="0.3"/>
<line x1="-105.79" y1="6.66" x2="-110.78" y2="6.97" stroke="#000" stroke-opacity="0.3" stroke-width="0.3"/>
<line x1="-104.12" y1="19.86" x2="-109.03" y2="20.80" stroke="#000" stroke-opacity="0.3" stroke-width="0.3"/>
<line x1="-100.81" y1="32.76" x2="-105.57" y2="34.30" stroke="#000" stroke-opacity="0.3" stroke-width="0.3"/>
<line x1="-95.91" y1="45.13" x2="-100.44" y2="47.26" stroke="#000" stroke-opacity="0.3" stroke-width="0.3"/>
<line x1="-89.50" y1="56.80" x2="-93.72" y2="59.48" stroke="#000" stroke-opacity="0.3" stroke-width="0.3"/>
<line x1="-81.67" y1="67.57" x2="-85.53" y2="70.75" stroke="#000" stroke-opacity="0.3" stroke-width="0.3"/>
<line x1="-72.56" y1="77.27" x2="-75.98" y2="80.92" stroke="#000" stroke-opacity="0.3" stroke-width="0.3"/>
<line x1="-62.31" y1="85.76" x2="-65.24" y2="89.80" stroke="#000" stroke-opacity="0.3" stroke-width="0.3"/>
<line x1="-51.07" y1="92.89" x2="-53.47" y2="97.27" stroke="#000" stroke-opacity="0.3" stroke-width="0.3"/>
<line x1="-39.02" y1="98.56" x2="-40.86" y2="103.21" stroke="#000" stroke-opacity="0.3" stroke-width="0.3"/>
<line x1="-26.36" y1="102.67" x2="-27.60" y2="107.51" stroke="#000" stroke-opacity="0.3" stroke-width="0.3"/>
<line x1="-13.29" y1="105.16" x2="-13.91" y2="110.12" stroke="#000" stroke-opacity="0.3" stroke-width="0.3"/>
<path d="M0.54,-102.20 A102.2,102.2 0 0 1 0.54,102.20" fill="none" stroke="#000" stroke-opacity="0.25" stroke-width="0.3"/>
<line x1="35.96" y1="-95.67" x2="39.05" y2="-103.90" stroke="#000" stroke-opacity="0.4" stroke-width="0.3"/>
<line x1="65.97" y1="-78.06" x2="71.65" y2="-84.78" stroke="#000" stroke-opacity="0.4" stroke-width="0.3"/>
<line x1="88.24" y1="-51.56" x2="95.84" y2="-56.00" stroke="#000" stroke-opacity="0.4" stroke-width="0.3"/>
<line x1="100.39" y1="-19.15" x2="109.03" y2="-20.80" stroke="#000" stroke-opacity="0.4" stroke-width="0.3"/>
<line x1="100.77" y1="17.04" x2="109.45" y2="18.51" stroke="#000" stroke-opacity="0.4" stroke-width="0.3"/>
<line x1="88.15" y1="51.72" x2="95.74" y2="56.17" stroke="#000" stroke-opacity="0.4" stroke-width="0.3"/>
<line x1="67.18" y1="77.01" x2="72.97" y2="83.65" stroke="#000" stroke-opacity="0.4" stroke-width="0.3"/>
<line x1="35.62" y1="95.79" x2="38.69" y2="104.04" stroke="#000" stroke-opacity="0.4" stroke-width="0.3"/>
</g>
<text transform="translate(201.70,200.70) scale(0.665,1) rotate(86.4)" y="1.75" font-size="4.84" text-anchor="middle" textLength="10" lengthAdjust="spacingAndGlyphs" font-family="Liberation Sans, Arial, sans-serif" fill="#222" stroke="#222" stroke-width="0.08">RPL37</text>
<text transform="translate(183.90,201.10) scale(0.665,1) rotate(79.2)" y="1.75" font-size="4.84" text-anchor="middle" textLength="11" lengthAdjust="spacingAndGlyphs" font-family="Liberation Sans, Arial, sans-serif" fill="#222" stroke="#222" stroke-width="0.08">RPL31</text>
<text transform="translate(168.40,205.00) scale(0.665,1) rotate(72.0)" y="1.75" font-size="4.84" text-anchor="middle" font-family="Liberation Sans, Arial, sans-serif" fill="#222" stroke="#222" stroke-width="0.08">RPL35A</text>
<text transform="translate(151.00,210.50) scale(0.665,1) rotate(64.8)" y="1.75" font-size="4.84" text-anchor="middle" font-family="Liberation Sans, Arial, sans-serif" fill="#222" stroke="#222" stroke-width="0.08">RPL32</text>
<text transform="translate(135.50,218.00) scale(0.665,1) rotate(57.6)" y="1.75" font-size="4.84" text-anchor="middle" font-family="Liberation Sans, Arial, sans-serif" fill="#222" stroke="#222" stroke-width="0.08">SNRPA1</text>
<text transform="translate(121.10,225.60) scale(0.665,1) rotate(50.4)" y="1.75" font-size="4.84" text-anchor="middle" font-family="Liberation Sans, Arial, sans-serif" fill="#222" stroke="#222" stroke-width="0.08">RPS6</text>
<text transform="translate(108.70,236.10) scale(0.665,1) rotate(43.2)" y="1.75" font-size="4.84" text-anchor="middle" font-family="Liberation Sans, Arial, sans-serif" fill="#222" stroke="#222" stroke-width="0.08">RPLP0</text>
<text transform="translate(97.30,246.40) scale(0.665,1) rotate(36.0)" y="1.75" font-size="4.84" text-anchor="middle" font-family="Liberation Sans, Arial, sans-serif" fill="#222" stroke="#222" stroke-width="0.08">RPS8</text>
<text transform="translate(89.40,259.90) scale(0.665,1) rotate(28.8)" y="1.75" font-size="4.84" text-anchor="middle" font-family="Liberation Sans, Arial, sans-serif" fill="#222" stroke="#222" stroke-width="0.08">RPLP2</text>
<text transform="translate(81.40,273.10) scale(0.665,1) rotate(21.6)" y="1.75" font-size="4.84" text-anchor="middle" font-family="Liberation Sans, Arial, sans-serif" fill="#222" stroke="#222" stroke-width="0.08">RPS14</text>
<text transform="translate(76.10,286.50) scale(0.665,1) rotate(14.4)" y="1.75" font-size="4.84" text-anchor="middle" font-family="Liberation Sans, Arial, sans-serif" fill="#222" stroke="#222" stroke-width="0.08">RPS15A</text>
<text transform="translate(71.70,301.10) scale(0.665,1) rotate(7.2)" y="1.75" font-size="4.84" text-anchor="middle" font-family="Liberation Sans, Arial, sans-serif" fill="#222" stroke="#222" stroke-width="0.08">RPS16</text>
<text transform="translate(71.20,316.10) scale(0.665,1) rotate(-0.0)" y="1.75" font-size="4.84" text-anchor="middle" font-family="Liberation Sans, Arial, sans-serif" fill="#222" stroke="#222" stroke-width="0.08">RPS19</text>
<text transform="translate(71.70,331.10) scale(0.665,1) rotate(-7.2)" y="1.75" font-size="4.84" text-anchor="middle" font-family="Liberation Sans, Arial, sans-serif" fill="#222" stroke="#222" stroke-width="0.08">RPS21</text>
<text transform="translate(76.00,349.20) scale(0.665,1) rotate(-14.4)" y="1.75" font-size="4.84" text-anchor="middle" font-family="Liberation Sans, Arial, sans-serif" fill="#222" stroke="#222" stroke-width="0.08">RPS23</text>
<text transform="translate(81.70,362.90) scale(0.665,1) rotate(-21.6)" y="1.75" font-size="4.84" text-anchor="middle" font-family="Liberation Sans, Arial, sans-serif" fill="#222" stroke="#222" stroke-width="0.08">RPS25</text>
<text transform="translate(90.60,377.90) scale(0.665,1) rotate(-28.8)" y="1.75" font-size="4.84" text-anchor="middle" font-family="Liberation Sans, Arial, sans-serif" fill="#222" stroke="#222" stroke-width="0.08">SSR1</text>
<text transform="translate(100.20,390.20) scale(0.665,1) rotate(-36.0)" y="1.75" font-size="4.84" text-anchor="middle" font-family="Liberation Sans, Arial, sans-serif" fill="#222" stroke="#222" stroke-width="0.08">SSR3</text>
<text transform="translate(107.30,401.70) scale(0.665,1) rotate(-43.2)" y="1.75" font-size="4.84" text-anchor="middle" font-family="Liberation Sans, Arial, sans-serif" fill="#222" stroke="#222" stroke-width="0.08">NCBP2</text>
<text transform="translate(119.00,412.20) scale(0.665,1) rotate(-50.4)" y="1.75" font-size="4.84" text-anchor="middle" font-family="Liberation Sans, Arial, sans-serif" fill="#222" stroke="#222" stroke-width="0.08">UBA52</text>
<text transform="translate(134.10,421.40) scale(0.665,1) rotate(-57.6)" y="1.75" font-size="4.84" text-anchor="middle" font-family="Liberation Sans, Arial, sans-serif" fill="#222" stroke="#222" stroke-width="0.08">TRAM1</text>
<text transform="translate(149.50,427.70) scale(0.665,1) rotate(-64.8)" y="1.75" font-size="4.84" text-anchor="middle" font-family="Liberation Sans, Arial, sans-serif" fill="#222" stroke="#222" stroke-width="0.08">EIF3G</text>
<text transform="translate(165.90,434.10) scale(0.665,1) rotate(-72.0)" y="1.75" font-size="4.84" text-anchor="middle" font-family="Liberation Sans, Arial, sans-serif" fill="#222" stroke="#222" stroke-width="0.08">EIF1</text>
<text transform="translate(186.80,437.70) scale(0.665,1) rotate(-79.2)" y="1.75" font-size="4.84" text-anchor="middle" font-family="Liberation Sans, Arial, sans-serif" fill="#222" stroke="#222" stroke-width="0.08">TAF11</text>
<text transform="translate(204.10,440.50) scale(0.665,1) rotate(-86.4)" y="1.75" font-size="4.84" text-anchor="middle" font-family="Liberation Sans, Arial, sans-serif" fill="#222" stroke="#222" stroke-width="0.08">RPL18</text>
<text transform="translate(371.80,269.00) scale(0.892,1)" font-size="6.0" text-anchor="start" font-family="Liberation Sans, Arial, sans-serif" fill="#111">GO Terms</text>
<rect x="359.3" y="281.40" width="4.4" height="4.4" fill="#cd1212"/>
<text transform="translate(370.90,285.70) scale(0.912,1)" font-size="6.0" text-anchor="start" font-family="Liberation Sans, Arial, sans-serif" fill="#111">cotranslational protein targeting to membrane</text>
<rect x="359.3" y="293.60" width="4.4" height="4.4" fill="#cd1212"/>
<text transform="translate(370.90,297.90) scale(0.912,1)" font-size="6.0" text-anchor="start" font-family="Liberation Sans, Arial, sans-serif" fill="#111">protein localization to endoplasmic reticulum</text>
<rect x="359.3" y="306.20" width="4.4" height="4.4" fill="#141414"/>
<text transform="translate(370.90,310.50) scale(0.912,1)" font-size="6.0" text-anchor="start" font-family="Liberation Sans, Arial, sans-serif" fill="#111">translational initiation</text>
<rect x="359.3" y="319.40" width="4.4" height="4.4" fill="#0f8374"/>
<text transform="translate(370.90,323.70) scale(0.912,1)" font-size="6.0" text-anchor="start" font-family="Liberation Sans, Arial, sans-serif" fill="#111">nuclear-transcribed mRNA catabolic process, nonsense-mediated decay</text>
<rect x="359.3" y="332.60" width="4.4" height="4.4" fill="#cd1212"/>
<text transform="translate(370.90,336.90) scale(0.912,1)" font-size="6.0" text-anchor="start" font-family="Liberation Sans, Arial, sans-serif" fill="#111">establishment of protein localization to endoplasmic reticulum</text>
<rect x="359.3" y="345.20" width="4.4" height="4.4" fill="#d0d052"/>
<text transform="translate(370.90,349.50) scale(0.912,1)" font-size="6.0" text-anchor="start" font-family="Liberation Sans, Arial, sans-serif" fill="#111">viral transcription</text>
<rect x="359.3" y="356.80" width="4.4" height="4.4" fill="#e89e1e"/>
<text transform="translate(370.90,361.10) scale(0.912,1)" font-size="6.0" text-anchor="start" font-family="Liberation Sans, Arial, sans-serif" fill="#111">protein targeting to ER</text>
<rect x="359.3" y="369.60" width="4.4" height="4.4" fill="#0f8374"/>
<text transform="translate(370.90,373.90) scale(0.912,1)" font-size="6.0" text-anchor="start" font-family="Liberation Sans, Arial, sans-serif" fill="#111">SRP-dependent cotranslational protein targeting to membrane</text>
<rect x="359.3" y="381.10" width="4.4" height="4.4" fill="#0f8374"/>
<text transform="translate(370.90,385.40) scale(0.912,1)" font-size="6.0" text-anchor="start" font-family="Liberation Sans, Arial, sans-serif" fill="#111">viral gene expression</text>
<text transform="translate(358.40,400.00) scale(0.900,1)" font-size="5.6" text-anchor="start" font-family="Liberation Sans, Arial, sans-serif" fill="#333">logFC</text>
<rect x="358.4" y="404.2" width="15.8" height="4.4" fill="url(#gC)"/>
<text x="366.50" y="412.00" font-size="2.6" text-anchor="middle" font-family="Liberation Sans, Arial, sans-serif" fill="#555">2</text>
<text x="373.80" y="412.00" font-size="2.6" text-anchor="middle" font-family="Liberation Sans, Arial, sans-serif" fill="#555">3</text>
</svg>
</body></html>
